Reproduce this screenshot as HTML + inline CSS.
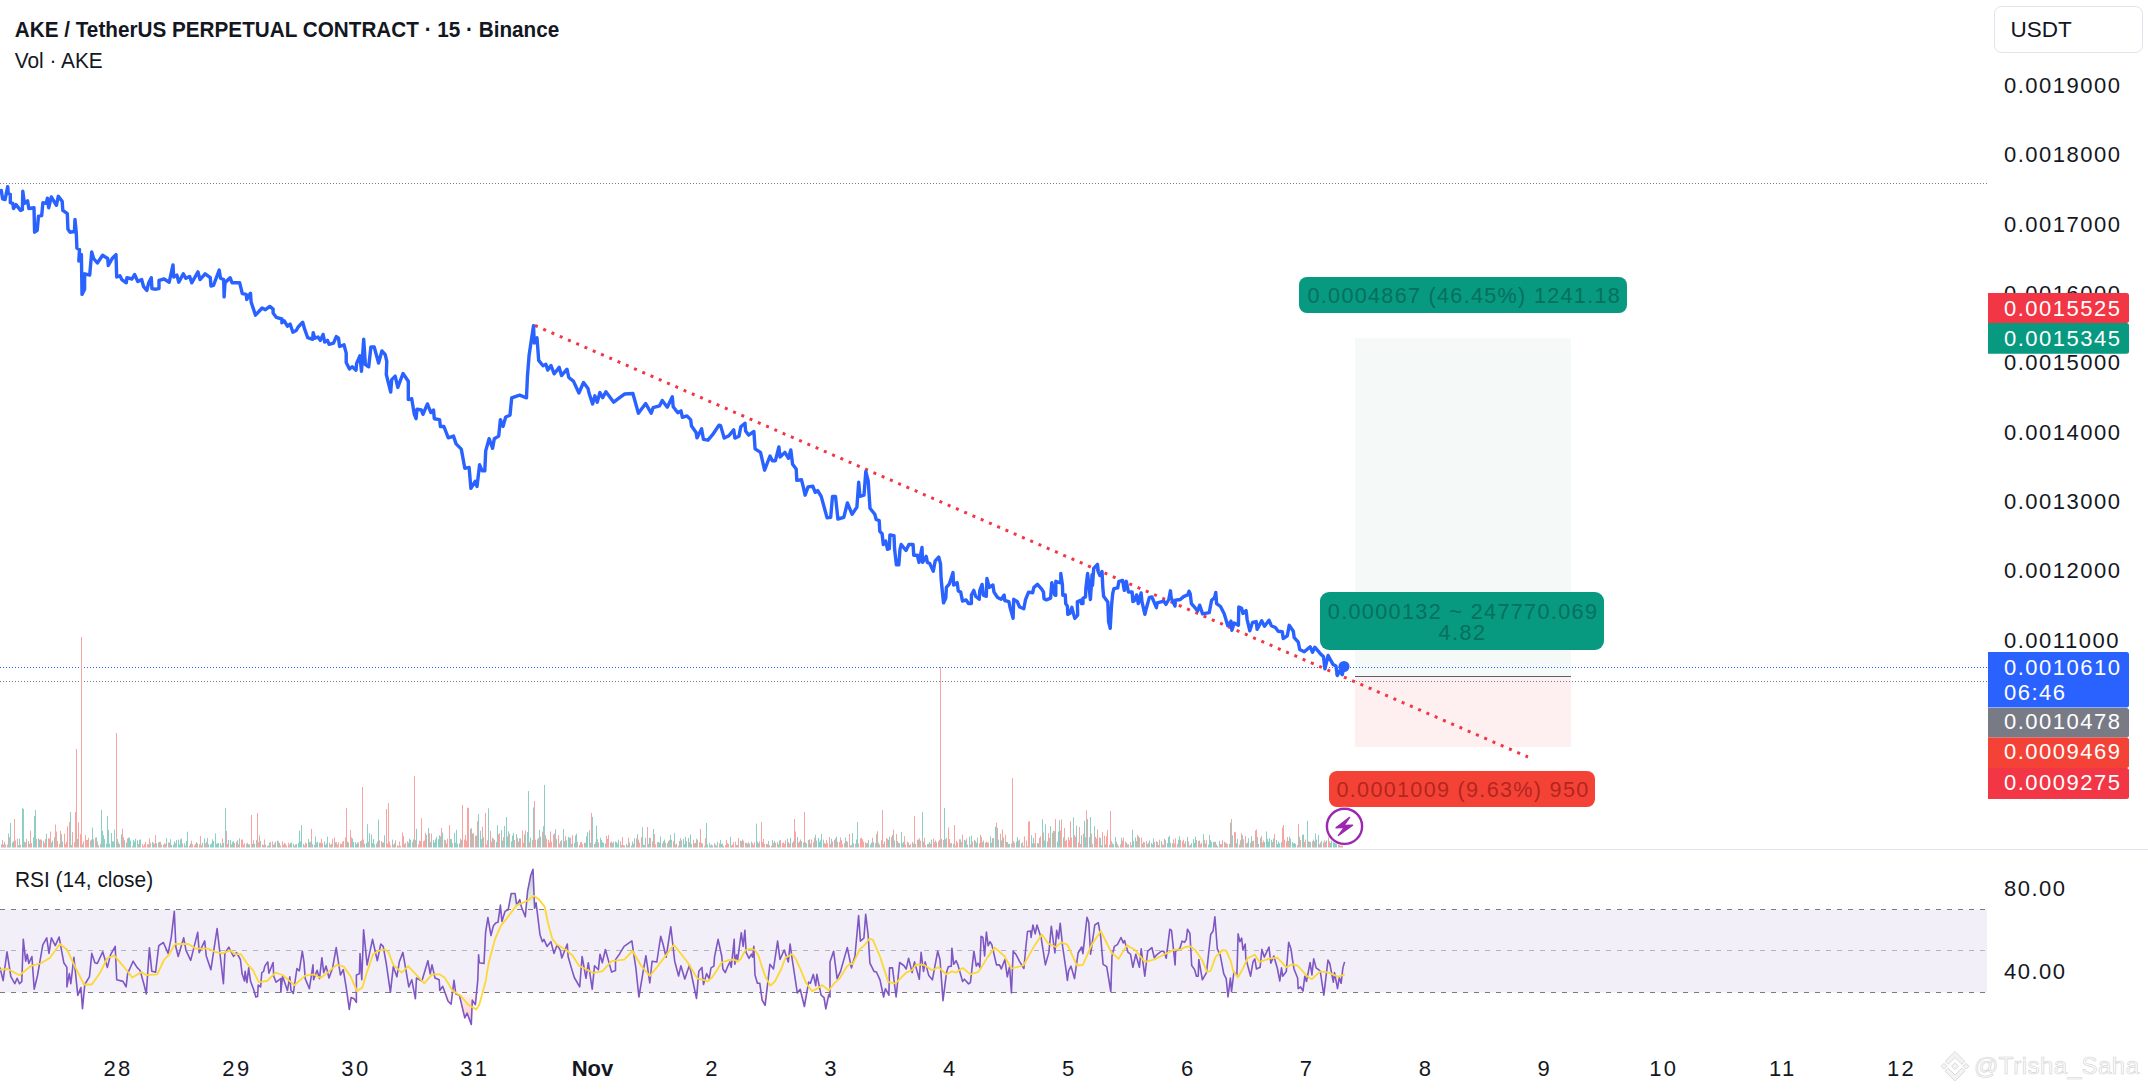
<!DOCTYPE html>
<html><head><meta charset="utf-8"><style>
html,body{margin:0;padding:0;background:#fff;}
body{width:2148px;height:1092px;overflow:hidden;position:relative;}
svg{position:absolute;left:0;top:0;font-family:'Liberation Sans',sans-serif;}
</style></head><body>
<svg width="2148" height="1092" viewBox="0 0 2148 1092">
<rect x="1355" y="338" width="216" height="338" fill="#f5f9f8"/>
<rect x="1355" y="676" width="216" height="71" fill="#fef0f0"/>
<line x1="1355" y1="676.5" x2="1571" y2="676.5" stroke="#5d606b" stroke-width="1"/>
<line x1="0" y1="183.5" x2="1987" y2="183.5" stroke="#787b86" stroke-width="1" stroke-dasharray="1 2"/>
<line x1="0" y1="667.5" x2="1987" y2="667.5" stroke="#2962ff" stroke-width="1" stroke-dasharray="1 2"/>
<line x1="0" y1="681.5" x2="1987" y2="681.5" stroke="#787b86" stroke-width="1" stroke-dasharray="1 2"/>
<rect x="0" y="849" width="2148" height="1" fill="#e0e3eb"/>
<g><rect x="1" y="844.4" width="1" height="3.1" fill="#8dcfc5"/><rect x="2" y="840.1" width="1" height="7.4" fill="#f7a5a2"/><rect x="3" y="844.6" width="1" height="2.9" fill="#f7a5a2"/><rect x="4" y="841.7" width="1" height="5.8" fill="#8dcfc5"/><rect x="5" y="844.4" width="1" height="3.1" fill="#f7a5a2"/><rect x="7" y="844.6" width="1" height="2.9" fill="#f7a5a2"/><rect x="8" y="833.6" width="1" height="13.9" fill="#8dcfc5"/><rect x="9" y="837.2" width="1" height="10.3" fill="#f7a5a2"/><rect x="10" y="822.8" width="1" height="24.7" fill="#8dcfc5"/><rect x="12" y="842.4" width="1" height="5.1" fill="#8dcfc5"/><rect x="13" y="841.2" width="1" height="6.3" fill="#8dcfc5"/><rect x="14" y="819.0" width="1" height="28.5" fill="#f7a5a2"/><rect x="15" y="840.5" width="1" height="7.0" fill="#f7a5a2"/><rect x="17" y="838.7" width="1" height="8.8" fill="#f7a5a2"/><rect x="18" y="845.3" width="1" height="2.2" fill="#8dcfc5"/><rect x="19" y="838.7" width="1" height="8.8" fill="#8dcfc5"/><rect x="20" y="844.8" width="1" height="2.7" fill="#f7a5a2"/><rect x="22" y="808.0" width="1" height="39.5" fill="#8dcfc5"/><rect x="23" y="809.0" width="1" height="38.5" fill="#8dcfc5"/><rect x="24" y="841.7" width="1" height="5.8" fill="#8dcfc5"/><rect x="25" y="842.4" width="1" height="5.1" fill="#f7a5a2"/><rect x="26" y="838.9" width="1" height="8.6" fill="#f7a5a2"/><rect x="28" y="841.1" width="1" height="6.4" fill="#8dcfc5"/><rect x="29" y="844.0" width="1" height="3.5" fill="#f7a5a2"/><rect x="30" y="830.7" width="1" height="16.8" fill="#f7a5a2"/><rect x="31" y="843.0" width="1" height="4.5" fill="#f7a5a2"/><rect x="33" y="837.4" width="1" height="10.1" fill="#8dcfc5"/><rect x="34" y="816.0" width="1" height="31.5" fill="#8dcfc5"/><rect x="35" y="810.0" width="1" height="37.5" fill="#8dcfc5"/><rect x="36" y="839.0" width="1" height="8.5" fill="#f7a5a2"/><rect x="38" y="838.3" width="1" height="9.2" fill="#8dcfc5"/><rect x="39" y="839.7" width="1" height="7.8" fill="#8dcfc5"/><rect x="40" y="839.4" width="1" height="8.1" fill="#f7a5a2"/><rect x="41" y="839.6" width="1" height="7.9" fill="#f7a5a2"/><rect x="43" y="840.9" width="1" height="6.6" fill="#8dcfc5"/><rect x="44" y="843.2" width="1" height="4.3" fill="#f7a5a2"/><rect x="45" y="839.2" width="1" height="8.3" fill="#f7a5a2"/><rect x="46" y="833.7" width="1" height="13.8" fill="#8dcfc5"/><rect x="48" y="838.3" width="1" height="9.2" fill="#f7a5a2"/><rect x="49" y="838.7" width="1" height="8.8" fill="#f7a5a2"/><rect x="50" y="831.6" width="1" height="15.9" fill="#f7a5a2"/><rect x="51" y="842.5" width="1" height="5.0" fill="#8dcfc5"/><rect x="52" y="840.6" width="1" height="6.9" fill="#8dcfc5"/><rect x="54" y="837.3" width="1" height="10.2" fill="#8dcfc5"/><rect x="55" y="824.6" width="1" height="22.9" fill="#f7a5a2"/><rect x="56" y="831.6" width="1" height="15.9" fill="#f7a5a2"/><rect x="57" y="841.1" width="1" height="6.4" fill="#f7a5a2"/><rect x="59" y="843.8" width="1" height="3.7" fill="#f7a5a2"/><rect x="60" y="830.9" width="1" height="16.6" fill="#f7a5a2"/><rect x="61" y="834.2" width="1" height="13.3" fill="#8dcfc5"/><rect x="62" y="841.6" width="1" height="5.9" fill="#8dcfc5"/><rect x="64" y="833.6" width="1" height="13.9" fill="#f7a5a2"/><rect x="65" y="844.1" width="1" height="3.4" fill="#f7a5a2"/><rect x="66" y="842.0" width="1" height="5.5" fill="#f7a5a2"/><rect x="67" y="826.4" width="1" height="21.1" fill="#f7a5a2"/><rect x="69" y="822.0" width="1" height="25.5" fill="#f7a5a2"/><rect x="70" y="812.0" width="1" height="35.5" fill="#8dcfc5"/><rect x="71" y="845.1" width="1" height="2.4" fill="#8dcfc5"/><rect x="72" y="831.9" width="1" height="15.6" fill="#f7a5a2"/><rect x="74" y="842.1" width="1" height="5.4" fill="#f7a5a2"/><rect x="75" y="812.1" width="1" height="35.4" fill="#f7a5a2"/><rect x="76" y="749.0" width="1" height="98.5" fill="#f7a5a2"/><rect x="77" y="838.9" width="1" height="8.6" fill="#8dcfc5"/><rect x="78" y="822.4" width="1" height="25.1" fill="#f7a5a2"/><rect x="80" y="834.1" width="1" height="13.4" fill="#f7a5a2"/><rect x="81" y="637.0" width="1" height="210.5" fill="#f7a5a2"/><rect x="82" y="844.2" width="1" height="3.3" fill="#8dcfc5"/><rect x="83" y="841.4" width="1" height="6.1" fill="#f7a5a2"/><rect x="85" y="835.1" width="1" height="12.4" fill="#f7a5a2"/><rect x="86" y="840.0" width="1" height="7.5" fill="#f7a5a2"/><rect x="87" y="840.0" width="1" height="7.5" fill="#f7a5a2"/><rect x="88" y="837.9" width="1" height="9.6" fill="#f7a5a2"/><rect x="90" y="840.6" width="1" height="6.9" fill="#f7a5a2"/><rect x="91" y="839.6" width="1" height="7.9" fill="#8dcfc5"/><rect x="92" y="827.5" width="1" height="20.0" fill="#8dcfc5"/><rect x="93" y="839.3" width="1" height="8.2" fill="#8dcfc5"/><rect x="95" y="837.6" width="1" height="9.9" fill="#f7a5a2"/><rect x="96" y="837.4" width="1" height="10.1" fill="#8dcfc5"/><rect x="97" y="841.6" width="1" height="5.9" fill="#f7a5a2"/><rect x="98" y="845.2" width="1" height="2.3" fill="#8dcfc5"/><rect x="100" y="843.8" width="1" height="3.7" fill="#f7a5a2"/><rect x="101" y="810.0" width="1" height="37.5" fill="#8dcfc5"/><rect x="102" y="830.8" width="1" height="16.7" fill="#8dcfc5"/><rect x="103" y="835.2" width="1" height="12.3" fill="#8dcfc5"/><rect x="104" y="839.1" width="1" height="8.4" fill="#8dcfc5"/><rect x="106" y="843.7" width="1" height="3.8" fill="#8dcfc5"/><rect x="107" y="816.0" width="1" height="31.5" fill="#8dcfc5"/><rect x="108" y="829.9" width="1" height="17.6" fill="#8dcfc5"/><rect x="109" y="843.6" width="1" height="3.9" fill="#8dcfc5"/><rect x="111" y="832.9" width="1" height="14.6" fill="#8dcfc5"/><rect x="112" y="841.4" width="1" height="6.1" fill="#8dcfc5"/><rect x="113" y="841.4" width="1" height="6.1" fill="#8dcfc5"/><rect x="114" y="829.6" width="1" height="17.9" fill="#8dcfc5"/><rect x="116" y="733.0" width="1" height="114.5" fill="#f7a5a2"/><rect x="117" y="839.1" width="1" height="8.4" fill="#8dcfc5"/><rect x="118" y="842.3" width="1" height="5.2" fill="#8dcfc5"/><rect x="119" y="844.1" width="1" height="3.4" fill="#f7a5a2"/><rect x="121" y="834.3" width="1" height="13.2" fill="#8dcfc5"/><rect x="122" y="828.8" width="1" height="18.7" fill="#f7a5a2"/><rect x="123" y="837.2" width="1" height="10.3" fill="#f7a5a2"/><rect x="124" y="840.2" width="1" height="7.3" fill="#8dcfc5"/><rect x="126" y="842.6" width="1" height="4.9" fill="#8dcfc5"/><rect x="127" y="838.5" width="1" height="9.0" fill="#f7a5a2"/><rect x="128" y="837.7" width="1" height="9.8" fill="#8dcfc5"/><rect x="129" y="837.6" width="1" height="9.9" fill="#8dcfc5"/><rect x="130" y="840.6" width="1" height="6.9" fill="#8dcfc5"/><rect x="132" y="845.8" width="1" height="1.7" fill="#f7a5a2"/><rect x="133" y="839.9" width="1" height="7.6" fill="#8dcfc5"/><rect x="134" y="841.5" width="1" height="6.0" fill="#8dcfc5"/><rect x="135" y="838.8" width="1" height="8.7" fill="#8dcfc5"/><rect x="137" y="840.1" width="1" height="7.4" fill="#8dcfc5"/><rect x="138" y="844.0" width="1" height="3.5" fill="#f7a5a2"/><rect x="139" y="839.9" width="1" height="7.6" fill="#8dcfc5"/><rect x="140" y="839.4" width="1" height="8.1" fill="#8dcfc5"/><rect x="142" y="843.9" width="1" height="3.6" fill="#f7a5a2"/><rect x="143" y="846.0" width="1" height="1.5" fill="#f7a5a2"/><rect x="144" y="844.2" width="1" height="3.3" fill="#f7a5a2"/><rect x="145" y="841.8" width="1" height="5.7" fill="#f7a5a2"/><rect x="147" y="844.3" width="1" height="3.2" fill="#f7a5a2"/><rect x="148" y="844.3" width="1" height="3.2" fill="#8dcfc5"/><rect x="149" y="838.4" width="1" height="9.1" fill="#f7a5a2"/><rect x="150" y="842.8" width="1" height="4.7" fill="#f7a5a2"/><rect x="152" y="841.9" width="1" height="5.6" fill="#8dcfc5"/><rect x="153" y="843.0" width="1" height="4.5" fill="#8dcfc5"/><rect x="154" y="844.0" width="1" height="3.5" fill="#f7a5a2"/><rect x="155" y="835.1" width="1" height="12.4" fill="#f7a5a2"/><rect x="156" y="843.1" width="1" height="4.4" fill="#8dcfc5"/><rect x="158" y="842.3" width="1" height="5.2" fill="#f7a5a2"/><rect x="159" y="841.9" width="1" height="5.6" fill="#8dcfc5"/><rect x="160" y="841.8" width="1" height="5.7" fill="#f7a5a2"/><rect x="161" y="844.6" width="1" height="2.9" fill="#8dcfc5"/><rect x="163" y="844.7" width="1" height="2.8" fill="#8dcfc5"/><rect x="164" y="843.2" width="1" height="4.3" fill="#f7a5a2"/><rect x="165" y="843.9" width="1" height="3.6" fill="#f7a5a2"/><rect x="166" y="838.2" width="1" height="9.3" fill="#8dcfc5"/><rect x="168" y="842.3" width="1" height="5.2" fill="#f7a5a2"/><rect x="169" y="842.8" width="1" height="4.7" fill="#8dcfc5"/><rect x="170" y="839.2" width="1" height="8.3" fill="#8dcfc5"/><rect x="171" y="845.0" width="1" height="2.5" fill="#f7a5a2"/><rect x="173" y="844.8" width="1" height="2.7" fill="#8dcfc5"/><rect x="174" y="841.4" width="1" height="6.1" fill="#8dcfc5"/><rect x="175" y="843.1" width="1" height="4.4" fill="#8dcfc5"/><rect x="176" y="839.9" width="1" height="7.6" fill="#8dcfc5"/><rect x="178" y="839.7" width="1" height="7.8" fill="#8dcfc5"/><rect x="179" y="844.5" width="1" height="3.0" fill="#8dcfc5"/><rect x="180" y="839.3" width="1" height="8.2" fill="#8dcfc5"/><rect x="181" y="838.6" width="1" height="8.9" fill="#8dcfc5"/><rect x="182" y="843.4" width="1" height="4.1" fill="#f7a5a2"/><rect x="184" y="843.3" width="1" height="4.2" fill="#8dcfc5"/><rect x="185" y="845.7" width="1" height="1.8" fill="#8dcfc5"/><rect x="186" y="841.0" width="1" height="6.5" fill="#8dcfc5"/><rect x="187" y="831.7" width="1" height="15.8" fill="#8dcfc5"/><rect x="189" y="845.6" width="1" height="1.9" fill="#f7a5a2"/><rect x="190" y="843.5" width="1" height="4.0" fill="#8dcfc5"/><rect x="191" y="840.7" width="1" height="6.8" fill="#f7a5a2"/><rect x="192" y="844.2" width="1" height="3.3" fill="#f7a5a2"/><rect x="194" y="845.5" width="1" height="2.0" fill="#f7a5a2"/><rect x="195" y="843.8" width="1" height="3.7" fill="#f7a5a2"/><rect x="196" y="842.1" width="1" height="5.4" fill="#8dcfc5"/><rect x="197" y="843.4" width="1" height="4.1" fill="#f7a5a2"/><rect x="199" y="844.4" width="1" height="3.1" fill="#f7a5a2"/><rect x="200" y="836.0" width="1" height="11.5" fill="#f7a5a2"/><rect x="201" y="845.4" width="1" height="2.1" fill="#8dcfc5"/><rect x="202" y="842.9" width="1" height="4.6" fill="#8dcfc5"/><rect x="204" y="838.4" width="1" height="9.1" fill="#8dcfc5"/><rect x="205" y="843.5" width="1" height="4.0" fill="#f7a5a2"/><rect x="206" y="841.9" width="1" height="5.6" fill="#f7a5a2"/><rect x="207" y="837.8" width="1" height="9.7" fill="#8dcfc5"/><rect x="208" y="844.2" width="1" height="3.3" fill="#8dcfc5"/><rect x="210" y="844.5" width="1" height="3.0" fill="#8dcfc5"/><rect x="211" y="843.4" width="1" height="4.1" fill="#8dcfc5"/><rect x="212" y="839.3" width="1" height="8.2" fill="#8dcfc5"/><rect x="213" y="840.9" width="1" height="6.6" fill="#8dcfc5"/><rect x="215" y="833.4" width="1" height="14.1" fill="#8dcfc5"/><rect x="216" y="843.9" width="1" height="3.6" fill="#8dcfc5"/><rect x="217" y="843.3" width="1" height="4.2" fill="#8dcfc5"/><rect x="218" y="843.0" width="1" height="4.5" fill="#8dcfc5"/><rect x="220" y="842.9" width="1" height="4.6" fill="#8dcfc5"/><rect x="221" y="845.3" width="1" height="2.2" fill="#8dcfc5"/><rect x="222" y="838.6" width="1" height="8.9" fill="#f7a5a2"/><rect x="223" y="842.9" width="1" height="4.6" fill="#8dcfc5"/><rect x="225" y="808.0" width="1" height="39.5" fill="#8dcfc5"/><rect x="226" y="830.9" width="1" height="16.6" fill="#f7a5a2"/><rect x="227" y="843.9" width="1" height="3.6" fill="#f7a5a2"/><rect x="228" y="840.0" width="1" height="7.5" fill="#8dcfc5"/><rect x="230" y="839.9" width="1" height="7.6" fill="#8dcfc5"/><rect x="231" y="844.4" width="1" height="3.1" fill="#f7a5a2"/><rect x="232" y="842.1" width="1" height="5.4" fill="#8dcfc5"/><rect x="233" y="841.0" width="1" height="6.5" fill="#8dcfc5"/><rect x="234" y="843.1" width="1" height="4.4" fill="#f7a5a2"/><rect x="236" y="841.8" width="1" height="5.7" fill="#8dcfc5"/><rect x="237" y="840.3" width="1" height="7.2" fill="#f7a5a2"/><rect x="238" y="844.4" width="1" height="3.1" fill="#f7a5a2"/><rect x="239" y="838.4" width="1" height="9.1" fill="#8dcfc5"/><rect x="241" y="839.5" width="1" height="8.0" fill="#f7a5a2"/><rect x="242" y="839.6" width="1" height="7.9" fill="#f7a5a2"/><rect x="243" y="844.7" width="1" height="2.8" fill="#f7a5a2"/><rect x="244" y="843.0" width="1" height="4.5" fill="#f7a5a2"/><rect x="246" y="843.9" width="1" height="3.6" fill="#f7a5a2"/><rect x="247" y="842.8" width="1" height="4.7" fill="#8dcfc5"/><rect x="248" y="844.3" width="1" height="3.2" fill="#8dcfc5"/><rect x="249" y="844.5" width="1" height="3.0" fill="#8dcfc5"/><rect x="251" y="815.0" width="1" height="32.5" fill="#f7a5a2"/><rect x="252" y="843.8" width="1" height="3.7" fill="#8dcfc5"/><rect x="253" y="840.1" width="1" height="7.4" fill="#f7a5a2"/><rect x="254" y="843.7" width="1" height="3.8" fill="#8dcfc5"/><rect x="256" y="840.1" width="1" height="7.4" fill="#8dcfc5"/><rect x="257" y="813.1" width="1" height="34.4" fill="#f7a5a2"/><rect x="258" y="842.2" width="1" height="5.3" fill="#f7a5a2"/><rect x="259" y="835.4" width="1" height="12.1" fill="#f7a5a2"/><rect x="260" y="840.9" width="1" height="6.6" fill="#8dcfc5"/><rect x="262" y="844.5" width="1" height="3.0" fill="#f7a5a2"/><rect x="263" y="845.0" width="1" height="2.5" fill="#f7a5a2"/><rect x="264" y="839.4" width="1" height="8.1" fill="#f7a5a2"/><rect x="265" y="844.5" width="1" height="3.0" fill="#8dcfc5"/><rect x="267" y="845.8" width="1" height="1.7" fill="#f7a5a2"/><rect x="268" y="845.5" width="1" height="2.0" fill="#8dcfc5"/><rect x="269" y="842.7" width="1" height="4.8" fill="#8dcfc5"/><rect x="270" y="842.1" width="1" height="5.4" fill="#f7a5a2"/><rect x="272" y="841.4" width="1" height="6.1" fill="#f7a5a2"/><rect x="273" y="844.8" width="1" height="2.7" fill="#8dcfc5"/><rect x="274" y="843.5" width="1" height="4.0" fill="#f7a5a2"/><rect x="275" y="841.7" width="1" height="5.8" fill="#8dcfc5"/><rect x="277" y="840.5" width="1" height="7.0" fill="#8dcfc5"/><rect x="278" y="841.3" width="1" height="6.2" fill="#f7a5a2"/><rect x="279" y="843.0" width="1" height="4.5" fill="#8dcfc5"/><rect x="280" y="845.5" width="1" height="2.0" fill="#f7a5a2"/><rect x="282" y="841.3" width="1" height="6.2" fill="#f7a5a2"/><rect x="283" y="844.7" width="1" height="2.8" fill="#8dcfc5"/><rect x="284" y="842.8" width="1" height="4.7" fill="#f7a5a2"/><rect x="285" y="843.9" width="1" height="3.6" fill="#f7a5a2"/><rect x="286" y="845.7" width="1" height="1.8" fill="#f7a5a2"/><rect x="288" y="842.7" width="1" height="4.8" fill="#f7a5a2"/><rect x="289" y="844.6" width="1" height="2.9" fill="#f7a5a2"/><rect x="290" y="843.0" width="1" height="4.5" fill="#8dcfc5"/><rect x="291" y="842.5" width="1" height="5.0" fill="#8dcfc5"/><rect x="293" y="843.8" width="1" height="3.7" fill="#8dcfc5"/><rect x="294" y="845.7" width="1" height="1.8" fill="#f7a5a2"/><rect x="295" y="844.6" width="1" height="2.9" fill="#8dcfc5"/><rect x="296" y="844.1" width="1" height="3.4" fill="#8dcfc5"/><rect x="298" y="842.8" width="1" height="4.7" fill="#8dcfc5"/><rect x="299" y="830.7" width="1" height="16.8" fill="#8dcfc5"/><rect x="300" y="841.3" width="1" height="6.2" fill="#8dcfc5"/><rect x="301" y="825.0" width="1" height="22.5" fill="#8dcfc5"/><rect x="303" y="843.9" width="1" height="3.6" fill="#8dcfc5"/><rect x="304" y="845.4" width="1" height="2.1" fill="#f7a5a2"/><rect x="305" y="842.7" width="1" height="4.8" fill="#f7a5a2"/><rect x="306" y="843.4" width="1" height="4.1" fill="#f7a5a2"/><rect x="308" y="839.1" width="1" height="8.4" fill="#8dcfc5"/><rect x="309" y="842.3" width="1" height="5.2" fill="#8dcfc5"/><rect x="310" y="841.7" width="1" height="5.8" fill="#8dcfc5"/><rect x="311" y="828.9" width="1" height="18.6" fill="#f7a5a2"/><rect x="312" y="844.1" width="1" height="3.4" fill="#8dcfc5"/><rect x="314" y="844.8" width="1" height="2.7" fill="#f7a5a2"/><rect x="315" y="836.5" width="1" height="11.0" fill="#8dcfc5"/><rect x="316" y="842.5" width="1" height="5.0" fill="#8dcfc5"/><rect x="317" y="841.9" width="1" height="5.6" fill="#8dcfc5"/><rect x="319" y="842.6" width="1" height="4.9" fill="#8dcfc5"/><rect x="320" y="842.6" width="1" height="4.9" fill="#f7a5a2"/><rect x="321" y="838.8" width="1" height="8.7" fill="#f7a5a2"/><rect x="322" y="843.3" width="1" height="4.2" fill="#f7a5a2"/><rect x="324" y="841.5" width="1" height="6.0" fill="#8dcfc5"/><rect x="325" y="844.8" width="1" height="2.7" fill="#8dcfc5"/><rect x="326" y="843.4" width="1" height="4.1" fill="#8dcfc5"/><rect x="327" y="836.6" width="1" height="10.9" fill="#8dcfc5"/><rect x="329" y="842.6" width="1" height="4.9" fill="#f7a5a2"/><rect x="330" y="844.7" width="1" height="2.8" fill="#f7a5a2"/><rect x="331" y="844.0" width="1" height="3.5" fill="#8dcfc5"/><rect x="332" y="839.1" width="1" height="8.4" fill="#f7a5a2"/><rect x="334" y="837.4" width="1" height="10.1" fill="#f7a5a2"/><rect x="335" y="842.3" width="1" height="5.2" fill="#8dcfc5"/><rect x="336" y="842.2" width="1" height="5.3" fill="#f7a5a2"/><rect x="337" y="844.6" width="1" height="2.9" fill="#f7a5a2"/><rect x="338" y="842.2" width="1" height="5.3" fill="#f7a5a2"/><rect x="340" y="843.5" width="1" height="4.0" fill="#f7a5a2"/><rect x="341" y="844.2" width="1" height="3.3" fill="#8dcfc5"/><rect x="342" y="841.7" width="1" height="5.8" fill="#f7a5a2"/><rect x="343" y="840.9" width="1" height="6.6" fill="#f7a5a2"/><rect x="345" y="837.5" width="1" height="10.0" fill="#f7a5a2"/><rect x="346" y="808.0" width="1" height="39.5" fill="#f7a5a2"/><rect x="347" y="841.5" width="1" height="6.0" fill="#8dcfc5"/><rect x="348" y="842.5" width="1" height="5.0" fill="#8dcfc5"/><rect x="350" y="830.0" width="1" height="17.5" fill="#f7a5a2"/><rect x="351" y="837.3" width="1" height="10.2" fill="#f7a5a2"/><rect x="352" y="838.5" width="1" height="9.0" fill="#8dcfc5"/><rect x="353" y="841.9" width="1" height="5.6" fill="#8dcfc5"/><rect x="355" y="842.1" width="1" height="5.4" fill="#8dcfc5"/><rect x="356" y="844.2" width="1" height="3.3" fill="#8dcfc5"/><rect x="357" y="842.7" width="1" height="4.8" fill="#8dcfc5"/><rect x="358" y="842.4" width="1" height="5.1" fill="#f7a5a2"/><rect x="360" y="841.2" width="1" height="6.3" fill="#8dcfc5"/><rect x="361" y="840.4" width="1" height="7.1" fill="#f7a5a2"/><rect x="362" y="787.0" width="1" height="60.5" fill="#f7a5a2"/><rect x="363" y="839.5" width="1" height="8.0" fill="#f7a5a2"/><rect x="364" y="843.9" width="1" height="3.6" fill="#8dcfc5"/><rect x="366" y="843.0" width="1" height="4.5" fill="#8dcfc5"/><rect x="367" y="824.2" width="1" height="23.3" fill="#8dcfc5"/><rect x="368" y="841.6" width="1" height="5.9" fill="#f7a5a2"/><rect x="369" y="833.1" width="1" height="14.4" fill="#8dcfc5"/><rect x="371" y="834.6" width="1" height="12.9" fill="#8dcfc5"/><rect x="372" y="843.0" width="1" height="4.5" fill="#8dcfc5"/><rect x="373" y="839.1" width="1" height="8.4" fill="#8dcfc5"/><rect x="374" y="844.4" width="1" height="3.1" fill="#8dcfc5"/><rect x="376" y="843.6" width="1" height="3.9" fill="#f7a5a2"/><rect x="377" y="841.4" width="1" height="6.1" fill="#8dcfc5"/><rect x="378" y="819.6" width="1" height="27.9" fill="#8dcfc5"/><rect x="379" y="840.3" width="1" height="7.2" fill="#f7a5a2"/><rect x="381" y="841.2" width="1" height="6.3" fill="#f7a5a2"/><rect x="382" y="842.5" width="1" height="5.0" fill="#8dcfc5"/><rect x="383" y="842.5" width="1" height="5.0" fill="#f7a5a2"/><rect x="384" y="835.3" width="1" height="12.2" fill="#8dcfc5"/><rect x="386" y="809.0" width="1" height="38.5" fill="#f7a5a2"/><rect x="387" y="843.6" width="1" height="3.9" fill="#f7a5a2"/><rect x="388" y="803.0" width="1" height="44.5" fill="#f7a5a2"/><rect x="389" y="841.7" width="1" height="5.8" fill="#f7a5a2"/><rect x="390" y="845.4" width="1" height="2.1" fill="#f7a5a2"/><rect x="392" y="839.6" width="1" height="7.9" fill="#8dcfc5"/><rect x="393" y="844.6" width="1" height="2.9" fill="#f7a5a2"/><rect x="394" y="843.4" width="1" height="4.1" fill="#8dcfc5"/><rect x="395" y="840.2" width="1" height="7.3" fill="#f7a5a2"/><rect x="397" y="845.2" width="1" height="2.3" fill="#f7a5a2"/><rect x="398" y="846.0" width="1" height="1.5" fill="#8dcfc5"/><rect x="399" y="841.7" width="1" height="5.8" fill="#f7a5a2"/><rect x="400" y="845.8" width="1" height="1.7" fill="#f7a5a2"/><rect x="402" y="832.4" width="1" height="15.1" fill="#f7a5a2"/><rect x="403" y="836.1" width="1" height="11.4" fill="#f7a5a2"/><rect x="404" y="844.1" width="1" height="3.4" fill="#8dcfc5"/><rect x="405" y="842.8" width="1" height="4.7" fill="#f7a5a2"/><rect x="407" y="841.3" width="1" height="6.2" fill="#f7a5a2"/><rect x="408" y="842.7" width="1" height="4.8" fill="#8dcfc5"/><rect x="409" y="838.5" width="1" height="9.0" fill="#8dcfc5"/><rect x="410" y="839.9" width="1" height="7.6" fill="#8dcfc5"/><rect x="412" y="841.9" width="1" height="5.6" fill="#f7a5a2"/><rect x="413" y="839.4" width="1" height="8.1" fill="#8dcfc5"/><rect x="414" y="776.0" width="1" height="71.5" fill="#f7a5a2"/><rect x="415" y="840.1" width="1" height="7.4" fill="#8dcfc5"/><rect x="416" y="828.8" width="1" height="18.7" fill="#8dcfc5"/><rect x="418" y="844.3" width="1" height="3.2" fill="#f7a5a2"/><rect x="419" y="840.5" width="1" height="7.0" fill="#f7a5a2"/><rect x="420" y="841.1" width="1" height="6.4" fill="#f7a5a2"/><rect x="421" y="818.3" width="1" height="29.2" fill="#f7a5a2"/><rect x="423" y="841.2" width="1" height="6.3" fill="#f7a5a2"/><rect x="424" y="840.4" width="1" height="7.1" fill="#f7a5a2"/><rect x="425" y="832.7" width="1" height="14.8" fill="#f7a5a2"/><rect x="426" y="834.8" width="1" height="12.7" fill="#8dcfc5"/><rect x="428" y="828.0" width="1" height="19.5" fill="#8dcfc5"/><rect x="429" y="833.1" width="1" height="14.4" fill="#f7a5a2"/><rect x="430" y="842.0" width="1" height="5.5" fill="#8dcfc5"/><rect x="431" y="833.6" width="1" height="13.9" fill="#f7a5a2"/><rect x="433" y="840.1" width="1" height="7.4" fill="#8dcfc5"/><rect x="434" y="842.5" width="1" height="5.0" fill="#8dcfc5"/><rect x="435" y="839.3" width="1" height="8.2" fill="#8dcfc5"/><rect x="436" y="836.8" width="1" height="10.7" fill="#8dcfc5"/><rect x="438" y="839.2" width="1" height="8.3" fill="#8dcfc5"/><rect x="439" y="835.3" width="1" height="12.2" fill="#8dcfc5"/><rect x="440" y="836.3" width="1" height="11.2" fill="#8dcfc5"/><rect x="441" y="827.9" width="1" height="19.6" fill="#f7a5a2"/><rect x="442" y="832.6" width="1" height="14.9" fill="#8dcfc5"/><rect x="444" y="839.7" width="1" height="7.8" fill="#f7a5a2"/><rect x="445" y="840.3" width="1" height="7.2" fill="#8dcfc5"/><rect x="446" y="843.5" width="1" height="4.0" fill="#f7a5a2"/><rect x="447" y="838.7" width="1" height="8.8" fill="#f7a5a2"/><rect x="449" y="825.1" width="1" height="22.4" fill="#f7a5a2"/><rect x="450" y="839.0" width="1" height="8.5" fill="#8dcfc5"/><rect x="451" y="839.0" width="1" height="8.5" fill="#8dcfc5"/><rect x="452" y="843.2" width="1" height="4.3" fill="#f7a5a2"/><rect x="454" y="832.9" width="1" height="14.6" fill="#8dcfc5"/><rect x="455" y="842.6" width="1" height="4.9" fill="#8dcfc5"/><rect x="456" y="829.7" width="1" height="17.8" fill="#8dcfc5"/><rect x="457" y="843.8" width="1" height="3.7" fill="#8dcfc5"/><rect x="459" y="843.3" width="1" height="4.2" fill="#8dcfc5"/><rect x="460" y="838.7" width="1" height="8.8" fill="#f7a5a2"/><rect x="461" y="839.9" width="1" height="7.6" fill="#8dcfc5"/><rect x="462" y="805.0" width="1" height="42.5" fill="#f7a5a2"/><rect x="464" y="839.6" width="1" height="7.9" fill="#f7a5a2"/><rect x="465" y="834.9" width="1" height="12.6" fill="#f7a5a2"/><rect x="466" y="840.7" width="1" height="6.8" fill="#f7a5a2"/><rect x="467" y="807.5" width="1" height="40.0" fill="#f7a5a2"/><rect x="468" y="808.0" width="1" height="39.5" fill="#f7a5a2"/><rect x="470" y="828.9" width="1" height="18.6" fill="#f7a5a2"/><rect x="471" y="828.2" width="1" height="19.3" fill="#8dcfc5"/><rect x="472" y="833.6" width="1" height="13.9" fill="#8dcfc5"/><rect x="473" y="833.3" width="1" height="14.2" fill="#f7a5a2"/><rect x="475" y="835.8" width="1" height="11.7" fill="#f7a5a2"/><rect x="476" y="835.6" width="1" height="11.9" fill="#8dcfc5"/><rect x="477" y="821.2" width="1" height="26.3" fill="#f7a5a2"/><rect x="478" y="814.0" width="1" height="33.5" fill="#8dcfc5"/><rect x="480" y="830.9" width="1" height="16.6" fill="#8dcfc5"/><rect x="481" y="839.0" width="1" height="8.5" fill="#8dcfc5"/><rect x="482" y="826.6" width="1" height="20.9" fill="#f7a5a2"/><rect x="483" y="837.3" width="1" height="10.2" fill="#8dcfc5"/><rect x="485" y="812.9" width="1" height="34.6" fill="#f7a5a2"/><rect x="486" y="844.6" width="1" height="2.9" fill="#f7a5a2"/><rect x="487" y="840.2" width="1" height="7.3" fill="#f7a5a2"/><rect x="488" y="808.3" width="1" height="39.2" fill="#8dcfc5"/><rect x="490" y="830.9" width="1" height="16.6" fill="#f7a5a2"/><rect x="491" y="841.8" width="1" height="5.7" fill="#f7a5a2"/><rect x="492" y="837.7" width="1" height="9.8" fill="#8dcfc5"/><rect x="493" y="838.7" width="1" height="8.8" fill="#f7a5a2"/><rect x="494" y="839.7" width="1" height="7.8" fill="#f7a5a2"/><rect x="496" y="841.9" width="1" height="5.6" fill="#8dcfc5"/><rect x="497" y="825.1" width="1" height="22.4" fill="#8dcfc5"/><rect x="498" y="834.4" width="1" height="13.1" fill="#f7a5a2"/><rect x="499" y="833.1" width="1" height="14.4" fill="#f7a5a2"/><rect x="501" y="830.2" width="1" height="17.3" fill="#8dcfc5"/><rect x="502" y="840.7" width="1" height="6.8" fill="#8dcfc5"/><rect x="503" y="837.2" width="1" height="10.3" fill="#f7a5a2"/><rect x="504" y="825.9" width="1" height="21.6" fill="#8dcfc5"/><rect x="506" y="817.0" width="1" height="30.5" fill="#8dcfc5"/><rect x="507" y="836.4" width="1" height="11.1" fill="#8dcfc5"/><rect x="508" y="831.4" width="1" height="16.1" fill="#8dcfc5"/><rect x="509" y="833.8" width="1" height="13.7" fill="#f7a5a2"/><rect x="511" y="841.5" width="1" height="6.0" fill="#8dcfc5"/><rect x="512" y="835.6" width="1" height="11.9" fill="#8dcfc5"/><rect x="513" y="832.8" width="1" height="14.7" fill="#8dcfc5"/><rect x="514" y="839.9" width="1" height="7.6" fill="#f7a5a2"/><rect x="516" y="834.0" width="1" height="13.5" fill="#8dcfc5"/><rect x="517" y="837.7" width="1" height="9.8" fill="#f7a5a2"/><rect x="518" y="841.7" width="1" height="5.8" fill="#f7a5a2"/><rect x="519" y="838.3" width="1" height="9.2" fill="#8dcfc5"/><rect x="520" y="838.3" width="1" height="9.2" fill="#f7a5a2"/><rect x="522" y="830.4" width="1" height="17.1" fill="#f7a5a2"/><rect x="523" y="842.8" width="1" height="4.7" fill="#f7a5a2"/><rect x="524" y="834.4" width="1" height="13.1" fill="#8dcfc5"/><rect x="525" y="830.5" width="1" height="17.0" fill="#f7a5a2"/><rect x="527" y="832.1" width="1" height="15.4" fill="#8dcfc5"/><rect x="528" y="791.0" width="1" height="56.5" fill="#8dcfc5"/><rect x="529" y="842.1" width="1" height="5.4" fill="#f7a5a2"/><rect x="530" y="837.6" width="1" height="9.9" fill="#8dcfc5"/><rect x="532" y="840.1" width="1" height="7.4" fill="#f7a5a2"/><rect x="533" y="807.5" width="1" height="40.0" fill="#8dcfc5"/><rect x="534" y="801.0" width="1" height="46.5" fill="#f7a5a2"/><rect x="535" y="839.7" width="1" height="7.8" fill="#f7a5a2"/><rect x="537" y="839.4" width="1" height="8.1" fill="#8dcfc5"/><rect x="538" y="838.0" width="1" height="9.5" fill="#f7a5a2"/><rect x="539" y="829.8" width="1" height="17.7" fill="#8dcfc5"/><rect x="540" y="836.7" width="1" height="10.8" fill="#8dcfc5"/><rect x="542" y="831.6" width="1" height="15.9" fill="#f7a5a2"/><rect x="543" y="826.1" width="1" height="21.4" fill="#8dcfc5"/><rect x="544" y="785.0" width="1" height="62.5" fill="#8dcfc5"/><rect x="545" y="835.2" width="1" height="12.3" fill="#f7a5a2"/><rect x="546" y="838.6" width="1" height="8.9" fill="#f7a5a2"/><rect x="548" y="840.0" width="1" height="7.5" fill="#f7a5a2"/><rect x="549" y="842.4" width="1" height="5.1" fill="#f7a5a2"/><rect x="550" y="831.4" width="1" height="16.1" fill="#f7a5a2"/><rect x="551" y="841.6" width="1" height="5.9" fill="#f7a5a2"/><rect x="553" y="834.6" width="1" height="12.9" fill="#f7a5a2"/><rect x="554" y="833.6" width="1" height="13.9" fill="#f7a5a2"/><rect x="555" y="829.2" width="1" height="18.3" fill="#8dcfc5"/><rect x="556" y="839.2" width="1" height="8.3" fill="#8dcfc5"/><rect x="558" y="835.2" width="1" height="12.3" fill="#f7a5a2"/><rect x="559" y="843.5" width="1" height="4.0" fill="#f7a5a2"/><rect x="560" y="841.1" width="1" height="6.4" fill="#f7a5a2"/><rect x="561" y="840.1" width="1" height="7.4" fill="#8dcfc5"/><rect x="563" y="829.1" width="1" height="18.4" fill="#8dcfc5"/><rect x="564" y="841.2" width="1" height="6.3" fill="#8dcfc5"/><rect x="565" y="836.1" width="1" height="11.4" fill="#f7a5a2"/><rect x="566" y="840.1" width="1" height="7.4" fill="#8dcfc5"/><rect x="568" y="836.8" width="1" height="10.7" fill="#8dcfc5"/><rect x="569" y="837.7" width="1" height="9.8" fill="#8dcfc5"/><rect x="570" y="837.6" width="1" height="9.9" fill="#f7a5a2"/><rect x="571" y="843.9" width="1" height="3.6" fill="#8dcfc5"/><rect x="572" y="835.1" width="1" height="12.4" fill="#f7a5a2"/><rect x="574" y="842.8" width="1" height="4.7" fill="#8dcfc5"/><rect x="575" y="835.4" width="1" height="12.1" fill="#8dcfc5"/><rect x="576" y="833.7" width="1" height="13.8" fill="#8dcfc5"/><rect x="577" y="841.9" width="1" height="5.6" fill="#f7a5a2"/><rect x="579" y="845.0" width="1" height="2.5" fill="#8dcfc5"/><rect x="580" y="842.1" width="1" height="5.4" fill="#f7a5a2"/><rect x="581" y="842.1" width="1" height="5.4" fill="#f7a5a2"/><rect x="582" y="844.2" width="1" height="3.3" fill="#f7a5a2"/><rect x="584" y="842.8" width="1" height="4.7" fill="#8dcfc5"/><rect x="585" y="842.8" width="1" height="4.7" fill="#f7a5a2"/><rect x="586" y="836.3" width="1" height="11.2" fill="#8dcfc5"/><rect x="587" y="832.2" width="1" height="15.3" fill="#8dcfc5"/><rect x="589" y="830.3" width="1" height="17.2" fill="#8dcfc5"/><rect x="590" y="842.8" width="1" height="4.7" fill="#8dcfc5"/><rect x="591" y="813.0" width="1" height="34.5" fill="#f7a5a2"/><rect x="592" y="817.0" width="1" height="30.5" fill="#8dcfc5"/><rect x="594" y="844.0" width="1" height="3.5" fill="#8dcfc5"/><rect x="595" y="842.2" width="1" height="5.3" fill="#f7a5a2"/><rect x="596" y="825.6" width="1" height="21.9" fill="#8dcfc5"/><rect x="597" y="839.2" width="1" height="8.3" fill="#8dcfc5"/><rect x="598" y="842.4" width="1" height="5.1" fill="#f7a5a2"/><rect x="600" y="837.7" width="1" height="9.8" fill="#8dcfc5"/><rect x="601" y="840.0" width="1" height="7.5" fill="#8dcfc5"/><rect x="602" y="842.1" width="1" height="5.4" fill="#8dcfc5"/><rect x="603" y="842.8" width="1" height="4.7" fill="#8dcfc5"/><rect x="605" y="843.4" width="1" height="4.1" fill="#8dcfc5"/><rect x="606" y="836.0" width="1" height="11.5" fill="#f7a5a2"/><rect x="607" y="839.0" width="1" height="8.5" fill="#f7a5a2"/><rect x="608" y="834.9" width="1" height="12.6" fill="#f7a5a2"/><rect x="610" y="842.4" width="1" height="5.1" fill="#8dcfc5"/><rect x="611" y="841.4" width="1" height="6.1" fill="#f7a5a2"/><rect x="612" y="843.0" width="1" height="4.5" fill="#8dcfc5"/><rect x="613" y="841.8" width="1" height="5.7" fill="#f7a5a2"/><rect x="615" y="841.5" width="1" height="6.0" fill="#8dcfc5"/><rect x="616" y="842.2" width="1" height="5.3" fill="#8dcfc5"/><rect x="617" y="843.5" width="1" height="4.0" fill="#8dcfc5"/><rect x="618" y="839.7" width="1" height="7.8" fill="#8dcfc5"/><rect x="620" y="841.2" width="1" height="6.3" fill="#f7a5a2"/><rect x="621" y="845.1" width="1" height="2.4" fill="#8dcfc5"/><rect x="622" y="836.9" width="1" height="10.6" fill="#f7a5a2"/><rect x="623" y="845.1" width="1" height="2.4" fill="#f7a5a2"/><rect x="624" y="845.5" width="1" height="2.0" fill="#8dcfc5"/><rect x="626" y="843.8" width="1" height="3.7" fill="#8dcfc5"/><rect x="627" y="845.5" width="1" height="2.0" fill="#f7a5a2"/><rect x="628" y="837.7" width="1" height="9.8" fill="#f7a5a2"/><rect x="629" y="842.5" width="1" height="5.0" fill="#8dcfc5"/><rect x="631" y="845.6" width="1" height="1.9" fill="#8dcfc5"/><rect x="632" y="841.5" width="1" height="6.0" fill="#8dcfc5"/><rect x="633" y="843.7" width="1" height="3.8" fill="#f7a5a2"/><rect x="634" y="838.3" width="1" height="9.2" fill="#8dcfc5"/><rect x="636" y="838.4" width="1" height="9.1" fill="#f7a5a2"/><rect x="637" y="834.1" width="1" height="13.4" fill="#8dcfc5"/><rect x="638" y="839.6" width="1" height="7.9" fill="#f7a5a2"/><rect x="639" y="842.5" width="1" height="5.0" fill="#f7a5a2"/><rect x="641" y="837.4" width="1" height="10.1" fill="#f7a5a2"/><rect x="642" y="827.3" width="1" height="20.2" fill="#8dcfc5"/><rect x="643" y="844.7" width="1" height="2.8" fill="#8dcfc5"/><rect x="644" y="845.0" width="1" height="2.5" fill="#f7a5a2"/><rect x="645" y="837.9" width="1" height="9.6" fill="#8dcfc5"/><rect x="647" y="827.0" width="1" height="20.5" fill="#f7a5a2"/><rect x="648" y="843.8" width="1" height="3.7" fill="#8dcfc5"/><rect x="649" y="837.7" width="1" height="9.8" fill="#8dcfc5"/><rect x="650" y="837.8" width="1" height="9.7" fill="#f7a5a2"/><rect x="652" y="841.4" width="1" height="6.1" fill="#f7a5a2"/><rect x="653" y="829.0" width="1" height="18.5" fill="#8dcfc5"/><rect x="654" y="834.2" width="1" height="13.3" fill="#f7a5a2"/><rect x="655" y="844.3" width="1" height="3.2" fill="#f7a5a2"/><rect x="657" y="842.3" width="1" height="5.2" fill="#f7a5a2"/><rect x="658" y="842.0" width="1" height="5.5" fill="#8dcfc5"/><rect x="659" y="842.7" width="1" height="4.8" fill="#8dcfc5"/><rect x="660" y="836.5" width="1" height="11.0" fill="#8dcfc5"/><rect x="662" y="843.3" width="1" height="4.2" fill="#f7a5a2"/><rect x="663" y="841.1" width="1" height="6.4" fill="#8dcfc5"/><rect x="664" y="839.5" width="1" height="8.0" fill="#8dcfc5"/><rect x="665" y="842.7" width="1" height="4.8" fill="#f7a5a2"/><rect x="667" y="843.2" width="1" height="4.3" fill="#8dcfc5"/><rect x="668" y="841.1" width="1" height="6.4" fill="#8dcfc5"/><rect x="669" y="839.9" width="1" height="7.6" fill="#f7a5a2"/><rect x="670" y="834.9" width="1" height="12.6" fill="#8dcfc5"/><rect x="671" y="839.8" width="1" height="7.7" fill="#8dcfc5"/><rect x="673" y="841.0" width="1" height="6.5" fill="#f7a5a2"/><rect x="674" y="832.8" width="1" height="14.7" fill="#8dcfc5"/><rect x="675" y="844.4" width="1" height="3.1" fill="#f7a5a2"/><rect x="676" y="843.6" width="1" height="3.9" fill="#f7a5a2"/><rect x="678" y="845.7" width="1" height="1.8" fill="#f7a5a2"/><rect x="679" y="841.0" width="1" height="6.5" fill="#8dcfc5"/><rect x="680" y="838.0" width="1" height="9.5" fill="#f7a5a2"/><rect x="681" y="840.4" width="1" height="7.1" fill="#8dcfc5"/><rect x="683" y="838.9" width="1" height="8.6" fill="#8dcfc5"/><rect x="684" y="844.1" width="1" height="3.4" fill="#8dcfc5"/><rect x="685" y="836.8" width="1" height="10.7" fill="#8dcfc5"/><rect x="686" y="841.1" width="1" height="6.4" fill="#8dcfc5"/><rect x="688" y="838.0" width="1" height="9.5" fill="#8dcfc5"/><rect x="689" y="842.2" width="1" height="5.3" fill="#f7a5a2"/><rect x="690" y="834.5" width="1" height="13.0" fill="#8dcfc5"/><rect x="691" y="844.3" width="1" height="3.2" fill="#8dcfc5"/><rect x="693" y="839.8" width="1" height="7.7" fill="#f7a5a2"/><rect x="694" y="843.3" width="1" height="4.2" fill="#f7a5a2"/><rect x="695" y="842.9" width="1" height="4.6" fill="#8dcfc5"/><rect x="696" y="838.7" width="1" height="8.8" fill="#8dcfc5"/><rect x="697" y="839.9" width="1" height="7.6" fill="#f7a5a2"/><rect x="699" y="842.2" width="1" height="5.3" fill="#f7a5a2"/><rect x="700" y="829.0" width="1" height="18.5" fill="#f7a5a2"/><rect x="701" y="842.9" width="1" height="4.6" fill="#f7a5a2"/><rect x="702" y="843.5" width="1" height="4.0" fill="#8dcfc5"/><rect x="704" y="846.0" width="1" height="1.5" fill="#f7a5a2"/><rect x="705" y="838.2" width="1" height="9.3" fill="#f7a5a2"/><rect x="706" y="823.0" width="1" height="24.5" fill="#8dcfc5"/><rect x="707" y="844.5" width="1" height="3.0" fill="#8dcfc5"/><rect x="709" y="842.9" width="1" height="4.6" fill="#8dcfc5"/><rect x="710" y="845.4" width="1" height="2.1" fill="#8dcfc5"/><rect x="711" y="844.4" width="1" height="3.1" fill="#8dcfc5"/><rect x="712" y="845.3" width="1" height="2.2" fill="#f7a5a2"/><rect x="714" y="843.2" width="1" height="4.3" fill="#8dcfc5"/><rect x="715" y="844.6" width="1" height="2.9" fill="#f7a5a2"/><rect x="716" y="845.8" width="1" height="1.7" fill="#8dcfc5"/><rect x="717" y="841.8" width="1" height="5.7" fill="#8dcfc5"/><rect x="719" y="843.3" width="1" height="4.2" fill="#f7a5a2"/><rect x="720" y="840.0" width="1" height="7.5" fill="#8dcfc5"/><rect x="721" y="844.0" width="1" height="3.5" fill="#8dcfc5"/><rect x="722" y="843.5" width="1" height="4.0" fill="#8dcfc5"/><rect x="723" y="846.0" width="1" height="1.5" fill="#f7a5a2"/><rect x="725" y="845.1" width="1" height="2.4" fill="#f7a5a2"/><rect x="726" y="839.9" width="1" height="7.6" fill="#f7a5a2"/><rect x="727" y="843.2" width="1" height="4.3" fill="#f7a5a2"/><rect x="728" y="843.8" width="1" height="3.7" fill="#f7a5a2"/><rect x="730" y="836.8" width="1" height="10.7" fill="#8dcfc5"/><rect x="731" y="845.4" width="1" height="2.1" fill="#8dcfc5"/><rect x="732" y="844.5" width="1" height="3.0" fill="#f7a5a2"/><rect x="733" y="842.2" width="1" height="5.3" fill="#f7a5a2"/><rect x="735" y="841.7" width="1" height="5.8" fill="#f7a5a2"/><rect x="736" y="845.0" width="1" height="2.5" fill="#f7a5a2"/><rect x="737" y="845.0" width="1" height="2.5" fill="#8dcfc5"/><rect x="738" y="838.0" width="1" height="9.5" fill="#f7a5a2"/><rect x="740" y="840.6" width="1" height="6.9" fill="#f7a5a2"/><rect x="741" y="841.2" width="1" height="6.3" fill="#8dcfc5"/><rect x="742" y="839.4" width="1" height="8.1" fill="#8dcfc5"/><rect x="743" y="840.7" width="1" height="6.8" fill="#f7a5a2"/><rect x="745" y="842.6" width="1" height="4.9" fill="#f7a5a2"/><rect x="746" y="842.8" width="1" height="4.7" fill="#f7a5a2"/><rect x="747" y="843.6" width="1" height="3.9" fill="#8dcfc5"/><rect x="748" y="842.1" width="1" height="5.4" fill="#f7a5a2"/><rect x="749" y="843.6" width="1" height="3.9" fill="#8dcfc5"/><rect x="751" y="841.6" width="1" height="5.9" fill="#8dcfc5"/><rect x="752" y="843.1" width="1" height="4.4" fill="#f7a5a2"/><rect x="753" y="844.7" width="1" height="2.8" fill="#f7a5a2"/><rect x="754" y="842.2" width="1" height="5.3" fill="#f7a5a2"/><rect x="756" y="823.5" width="1" height="24.0" fill="#8dcfc5"/><rect x="757" y="841.6" width="1" height="5.9" fill="#8dcfc5"/><rect x="758" y="843.3" width="1" height="4.2" fill="#8dcfc5"/><rect x="759" y="841.4" width="1" height="6.1" fill="#f7a5a2"/><rect x="761" y="822.0" width="1" height="25.5" fill="#f7a5a2"/><rect x="762" y="842.1" width="1" height="5.4" fill="#f7a5a2"/><rect x="763" y="839.0" width="1" height="8.5" fill="#f7a5a2"/><rect x="764" y="843.8" width="1" height="3.7" fill="#f7a5a2"/><rect x="766" y="843.9" width="1" height="3.6" fill="#f7a5a2"/><rect x="767" y="844.1" width="1" height="3.4" fill="#8dcfc5"/><rect x="768" y="841.0" width="1" height="6.5" fill="#8dcfc5"/><rect x="769" y="845.2" width="1" height="2.3" fill="#f7a5a2"/><rect x="771" y="845.8" width="1" height="1.7" fill="#f7a5a2"/><rect x="772" y="839.8" width="1" height="7.7" fill="#8dcfc5"/><rect x="773" y="843.0" width="1" height="4.5" fill="#f7a5a2"/><rect x="774" y="840.9" width="1" height="6.6" fill="#8dcfc5"/><rect x="775" y="842.7" width="1" height="4.8" fill="#f7a5a2"/><rect x="777" y="842.0" width="1" height="5.5" fill="#f7a5a2"/><rect x="778" y="844.3" width="1" height="3.2" fill="#8dcfc5"/><rect x="779" y="840.5" width="1" height="7.0" fill="#8dcfc5"/><rect x="780" y="839.9" width="1" height="7.6" fill="#f7a5a2"/><rect x="782" y="843.0" width="1" height="4.5" fill="#f7a5a2"/><rect x="783" y="842.5" width="1" height="5.0" fill="#f7a5a2"/><rect x="784" y="843.8" width="1" height="3.7" fill="#f7a5a2"/><rect x="785" y="840.3" width="1" height="7.2" fill="#f7a5a2"/><rect x="787" y="838.6" width="1" height="8.9" fill="#8dcfc5"/><rect x="788" y="842.0" width="1" height="5.5" fill="#f7a5a2"/><rect x="789" y="843.6" width="1" height="3.9" fill="#f7a5a2"/><rect x="790" y="837.8" width="1" height="9.7" fill="#8dcfc5"/><rect x="792" y="842.6" width="1" height="4.9" fill="#8dcfc5"/><rect x="793" y="840.9" width="1" height="6.6" fill="#f7a5a2"/><rect x="794" y="819.0" width="1" height="28.5" fill="#f7a5a2"/><rect x="795" y="831.4" width="1" height="16.1" fill="#f7a5a2"/><rect x="797" y="836.9" width="1" height="10.6" fill="#8dcfc5"/><rect x="798" y="842.5" width="1" height="5.0" fill="#f7a5a2"/><rect x="799" y="841.6" width="1" height="5.9" fill="#f7a5a2"/><rect x="800" y="839.4" width="1" height="8.1" fill="#8dcfc5"/><rect x="801" y="841.0" width="1" height="6.5" fill="#f7a5a2"/><rect x="803" y="842.7" width="1" height="4.8" fill="#8dcfc5"/><rect x="804" y="812.0" width="1" height="35.5" fill="#f7a5a2"/><rect x="805" y="842.2" width="1" height="5.3" fill="#8dcfc5"/><rect x="806" y="843.5" width="1" height="4.0" fill="#8dcfc5"/><rect x="808" y="840.0" width="1" height="7.5" fill="#f7a5a2"/><rect x="809" y="839.4" width="1" height="8.1" fill="#8dcfc5"/><rect x="810" y="843.7" width="1" height="3.8" fill="#8dcfc5"/><rect x="811" y="839.4" width="1" height="8.1" fill="#f7a5a2"/><rect x="813" y="842.2" width="1" height="5.3" fill="#f7a5a2"/><rect x="814" y="837.7" width="1" height="9.8" fill="#f7a5a2"/><rect x="815" y="834.6" width="1" height="12.9" fill="#8dcfc5"/><rect x="816" y="840.7" width="1" height="6.8" fill="#8dcfc5"/><rect x="818" y="838.0" width="1" height="9.5" fill="#8dcfc5"/><rect x="819" y="841.9" width="1" height="5.6" fill="#8dcfc5"/><rect x="820" y="840.3" width="1" height="7.2" fill="#8dcfc5"/><rect x="821" y="833.9" width="1" height="13.6" fill="#8dcfc5"/><rect x="823" y="839.6" width="1" height="7.9" fill="#8dcfc5"/><rect x="824" y="843.0" width="1" height="4.5" fill="#f7a5a2"/><rect x="825" y="843.8" width="1" height="3.7" fill="#f7a5a2"/><rect x="826" y="839.9" width="1" height="7.6" fill="#f7a5a2"/><rect x="827" y="843.1" width="1" height="4.4" fill="#f7a5a2"/><rect x="829" y="836.9" width="1" height="10.6" fill="#f7a5a2"/><rect x="830" y="843.9" width="1" height="3.6" fill="#f7a5a2"/><rect x="831" y="838.9" width="1" height="8.6" fill="#8dcfc5"/><rect x="832" y="841.4" width="1" height="6.1" fill="#f7a5a2"/><rect x="834" y="839.9" width="1" height="7.6" fill="#f7a5a2"/><rect x="835" y="838.3" width="1" height="9.2" fill="#8dcfc5"/><rect x="836" y="836.7" width="1" height="10.8" fill="#8dcfc5"/><rect x="837" y="841.7" width="1" height="5.8" fill="#f7a5a2"/><rect x="839" y="842.1" width="1" height="5.4" fill="#f7a5a2"/><rect x="840" y="837.4" width="1" height="10.1" fill="#f7a5a2"/><rect x="841" y="840.1" width="1" height="7.4" fill="#f7a5a2"/><rect x="842" y="844.0" width="1" height="3.5" fill="#f7a5a2"/><rect x="844" y="843.1" width="1" height="4.4" fill="#f7a5a2"/><rect x="845" y="837.6" width="1" height="9.9" fill="#8dcfc5"/><rect x="846" y="841.0" width="1" height="6.5" fill="#8dcfc5"/><rect x="847" y="841.9" width="1" height="5.6" fill="#f7a5a2"/><rect x="849" y="834.0" width="1" height="13.5" fill="#f7a5a2"/><rect x="850" y="845.3" width="1" height="2.2" fill="#f7a5a2"/><rect x="851" y="845.1" width="1" height="2.4" fill="#8dcfc5"/><rect x="852" y="833.0" width="1" height="14.5" fill="#8dcfc5"/><rect x="853" y="843.2" width="1" height="4.3" fill="#8dcfc5"/><rect x="855" y="843.8" width="1" height="3.7" fill="#f7a5a2"/><rect x="856" y="839.4" width="1" height="8.1" fill="#8dcfc5"/><rect x="857" y="822.0" width="1" height="25.5" fill="#8dcfc5"/><rect x="858" y="843.4" width="1" height="4.1" fill="#f7a5a2"/><rect x="860" y="838.3" width="1" height="9.2" fill="#f7a5a2"/><rect x="861" y="837.7" width="1" height="9.8" fill="#f7a5a2"/><rect x="862" y="839.3" width="1" height="8.2" fill="#f7a5a2"/><rect x="863" y="841.8" width="1" height="5.7" fill="#f7a5a2"/><rect x="865" y="842.4" width="1" height="5.1" fill="#f7a5a2"/><rect x="866" y="843.3" width="1" height="4.2" fill="#8dcfc5"/><rect x="867" y="843.1" width="1" height="4.4" fill="#f7a5a2"/><rect x="868" y="839.8" width="1" height="7.7" fill="#8dcfc5"/><rect x="870" y="844.6" width="1" height="2.9" fill="#8dcfc5"/><rect x="871" y="842.7" width="1" height="4.8" fill="#8dcfc5"/><rect x="872" y="837.7" width="1" height="9.8" fill="#f7a5a2"/><rect x="873" y="842.1" width="1" height="5.4" fill="#8dcfc5"/><rect x="875" y="843.2" width="1" height="4.3" fill="#8dcfc5"/><rect x="876" y="834.1" width="1" height="13.4" fill="#8dcfc5"/><rect x="877" y="831.2" width="1" height="16.3" fill="#f7a5a2"/><rect x="878" y="842.7" width="1" height="4.8" fill="#8dcfc5"/><rect x="879" y="844.5" width="1" height="3.0" fill="#f7a5a2"/><rect x="881" y="840.2" width="1" height="7.3" fill="#f7a5a2"/><rect x="882" y="810.0" width="1" height="37.5" fill="#f7a5a2"/><rect x="883" y="844.0" width="1" height="3.5" fill="#f7a5a2"/><rect x="884" y="841.5" width="1" height="6.0" fill="#8dcfc5"/><rect x="886" y="838.0" width="1" height="9.5" fill="#f7a5a2"/><rect x="887" y="839.0" width="1" height="8.5" fill="#f7a5a2"/><rect x="888" y="839.9" width="1" height="7.6" fill="#8dcfc5"/><rect x="889" y="836.4" width="1" height="11.1" fill="#8dcfc5"/><rect x="891" y="837.1" width="1" height="10.4" fill="#f7a5a2"/><rect x="892" y="835.0" width="1" height="12.5" fill="#8dcfc5"/><rect x="893" y="829.6" width="1" height="17.9" fill="#f7a5a2"/><rect x="894" y="840.6" width="1" height="6.9" fill="#8dcfc5"/><rect x="896" y="834.0" width="1" height="13.5" fill="#f7a5a2"/><rect x="897" y="841.1" width="1" height="6.4" fill="#8dcfc5"/><rect x="898" y="842.9" width="1" height="4.6" fill="#f7a5a2"/><rect x="899" y="843.1" width="1" height="4.4" fill="#8dcfc5"/><rect x="901" y="831.9" width="1" height="15.6" fill="#8dcfc5"/><rect x="902" y="843.4" width="1" height="4.1" fill="#8dcfc5"/><rect x="903" y="842.0" width="1" height="5.5" fill="#8dcfc5"/><rect x="904" y="836.2" width="1" height="11.3" fill="#f7a5a2"/><rect x="905" y="844.5" width="1" height="3.0" fill="#f7a5a2"/><rect x="907" y="841.7" width="1" height="5.8" fill="#f7a5a2"/><rect x="908" y="842.6" width="1" height="4.9" fill="#f7a5a2"/><rect x="909" y="845.2" width="1" height="2.3" fill="#8dcfc5"/><rect x="910" y="843.9" width="1" height="3.6" fill="#f7a5a2"/><rect x="912" y="841.9" width="1" height="5.6" fill="#8dcfc5"/><rect x="913" y="843.4" width="1" height="4.1" fill="#f7a5a2"/><rect x="914" y="815.9" width="1" height="31.6" fill="#f7a5a2"/><rect x="915" y="843.9" width="1" height="3.6" fill="#8dcfc5"/><rect x="917" y="839.6" width="1" height="7.9" fill="#f7a5a2"/><rect x="918" y="839.7" width="1" height="7.8" fill="#8dcfc5"/><rect x="919" y="838.3" width="1" height="9.2" fill="#f7a5a2"/><rect x="920" y="840.6" width="1" height="6.9" fill="#f7a5a2"/><rect x="922" y="812.0" width="1" height="35.5" fill="#8dcfc5"/><rect x="923" y="841.6" width="1" height="5.9" fill="#f7a5a2"/><rect x="924" y="837.8" width="1" height="9.7" fill="#f7a5a2"/><rect x="925" y="844.9" width="1" height="2.6" fill="#f7a5a2"/><rect x="927" y="844.0" width="1" height="3.5" fill="#8dcfc5"/><rect x="928" y="843.8" width="1" height="3.7" fill="#f7a5a2"/><rect x="929" y="842.0" width="1" height="5.5" fill="#8dcfc5"/><rect x="930" y="843.8" width="1" height="3.7" fill="#f7a5a2"/><rect x="931" y="839.6" width="1" height="7.9" fill="#8dcfc5"/><rect x="933" y="838.7" width="1" height="8.8" fill="#f7a5a2"/><rect x="934" y="842.2" width="1" height="5.3" fill="#f7a5a2"/><rect x="935" y="840.4" width="1" height="7.1" fill="#f7a5a2"/><rect x="936" y="842.2" width="1" height="5.3" fill="#8dcfc5"/><rect x="938" y="841.3" width="1" height="6.2" fill="#f7a5a2"/><rect x="939" y="839.9" width="1" height="7.6" fill="#f7a5a2"/><rect x="940" y="667.0" width="1" height="180.5" fill="#f7a5a2"/><rect x="941" y="839.0" width="1" height="8.5" fill="#8dcfc5"/><rect x="943" y="840.0" width="1" height="7.5" fill="#f7a5a2"/><rect x="944" y="808.0" width="1" height="39.5" fill="#8dcfc5"/><rect x="945" y="839.2" width="1" height="8.3" fill="#8dcfc5"/><rect x="946" y="837.8" width="1" height="9.7" fill="#f7a5a2"/><rect x="948" y="827.4" width="1" height="20.1" fill="#f7a5a2"/><rect x="949" y="839.0" width="1" height="8.5" fill="#f7a5a2"/><rect x="950" y="843.3" width="1" height="4.2" fill="#8dcfc5"/><rect x="951" y="842.9" width="1" height="4.6" fill="#f7a5a2"/><rect x="953" y="843.8" width="1" height="3.7" fill="#8dcfc5"/><rect x="954" y="825.0" width="1" height="22.5" fill="#f7a5a2"/><rect x="955" y="845.6" width="1" height="1.9" fill="#8dcfc5"/><rect x="956" y="840.9" width="1" height="6.6" fill="#f7a5a2"/><rect x="957" y="842.5" width="1" height="5.0" fill="#f7a5a2"/><rect x="959" y="839.3" width="1" height="8.2" fill="#f7a5a2"/><rect x="960" y="839.4" width="1" height="8.1" fill="#8dcfc5"/><rect x="961" y="842.0" width="1" height="5.5" fill="#f7a5a2"/><rect x="962" y="834.6" width="1" height="12.9" fill="#f7a5a2"/><rect x="964" y="839.9" width="1" height="7.6" fill="#8dcfc5"/><rect x="965" y="840.6" width="1" height="6.9" fill="#8dcfc5"/><rect x="966" y="838.6" width="1" height="8.9" fill="#f7a5a2"/><rect x="967" y="844.6" width="1" height="2.9" fill="#8dcfc5"/><rect x="969" y="836.6" width="1" height="10.9" fill="#8dcfc5"/><rect x="970" y="844.4" width="1" height="3.1" fill="#f7a5a2"/><rect x="971" y="835.6" width="1" height="11.9" fill="#8dcfc5"/><rect x="972" y="841.6" width="1" height="5.9" fill="#f7a5a2"/><rect x="974" y="839.8" width="1" height="7.7" fill="#8dcfc5"/><rect x="975" y="840.9" width="1" height="6.6" fill="#f7a5a2"/><rect x="976" y="842.8" width="1" height="4.7" fill="#8dcfc5"/><rect x="977" y="837.7" width="1" height="9.8" fill="#8dcfc5"/><rect x="979" y="843.3" width="1" height="4.2" fill="#f7a5a2"/><rect x="980" y="834.9" width="1" height="12.6" fill="#f7a5a2"/><rect x="981" y="837.0" width="1" height="10.5" fill="#f7a5a2"/><rect x="982" y="842.2" width="1" height="5.3" fill="#f7a5a2"/><rect x="983" y="840.6" width="1" height="6.9" fill="#8dcfc5"/><rect x="985" y="842.7" width="1" height="4.8" fill="#8dcfc5"/><rect x="986" y="841.5" width="1" height="6.0" fill="#f7a5a2"/><rect x="987" y="842.4" width="1" height="5.1" fill="#f7a5a2"/><rect x="988" y="842.5" width="1" height="5.0" fill="#f7a5a2"/><rect x="990" y="836.3" width="1" height="11.2" fill="#8dcfc5"/><rect x="991" y="842.8" width="1" height="4.7" fill="#8dcfc5"/><rect x="992" y="838.3" width="1" height="9.2" fill="#8dcfc5"/><rect x="993" y="837.9" width="1" height="9.6" fill="#f7a5a2"/><rect x="995" y="826.7" width="1" height="20.8" fill="#8dcfc5"/><rect x="996" y="822.7" width="1" height="24.8" fill="#f7a5a2"/><rect x="997" y="828.0" width="1" height="19.5" fill="#8dcfc5"/><rect x="998" y="839.7" width="1" height="7.8" fill="#8dcfc5"/><rect x="1000" y="833.6" width="1" height="13.9" fill="#f7a5a2"/><rect x="1001" y="840.4" width="1" height="7.1" fill="#8dcfc5"/><rect x="1002" y="829.4" width="1" height="18.1" fill="#f7a5a2"/><rect x="1003" y="837.6" width="1" height="9.9" fill="#8dcfc5"/><rect x="1005" y="834.7" width="1" height="12.8" fill="#f7a5a2"/><rect x="1006" y="841.9" width="1" height="5.6" fill="#8dcfc5"/><rect x="1007" y="842.1" width="1" height="5.4" fill="#f7a5a2"/><rect x="1008" y="844.1" width="1" height="3.4" fill="#8dcfc5"/><rect x="1009" y="843.8" width="1" height="3.7" fill="#8dcfc5"/><rect x="1011" y="843.6" width="1" height="3.9" fill="#f7a5a2"/><rect x="1012" y="778.0" width="1" height="69.5" fill="#f7a5a2"/><rect x="1013" y="841.1" width="1" height="6.4" fill="#8dcfc5"/><rect x="1014" y="842.9" width="1" height="4.6" fill="#f7a5a2"/><rect x="1016" y="841.6" width="1" height="5.9" fill="#8dcfc5"/><rect x="1017" y="837.1" width="1" height="10.4" fill="#8dcfc5"/><rect x="1018" y="840.5" width="1" height="7.0" fill="#8dcfc5"/><rect x="1019" y="839.6" width="1" height="7.9" fill="#f7a5a2"/><rect x="1021" y="843.2" width="1" height="4.3" fill="#8dcfc5"/><rect x="1022" y="842.2" width="1" height="5.3" fill="#f7a5a2"/><rect x="1023" y="846.0" width="1" height="1.5" fill="#8dcfc5"/><rect x="1024" y="836.3" width="1" height="11.2" fill="#f7a5a2"/><rect x="1026" y="840.5" width="1" height="7.0" fill="#f7a5a2"/><rect x="1027" y="846.0" width="1" height="1.5" fill="#8dcfc5"/><rect x="1028" y="821.8" width="1" height="25.7" fill="#f7a5a2"/><rect x="1029" y="821.1" width="1" height="26.4" fill="#f7a5a2"/><rect x="1031" y="835.2" width="1" height="12.3" fill="#8dcfc5"/><rect x="1032" y="843.4" width="1" height="4.1" fill="#8dcfc5"/><rect x="1033" y="837.8" width="1" height="9.7" fill="#8dcfc5"/><rect x="1034" y="843.2" width="1" height="4.3" fill="#f7a5a2"/><rect x="1035" y="833.0" width="1" height="14.5" fill="#f7a5a2"/><rect x="1037" y="843.2" width="1" height="4.3" fill="#8dcfc5"/><rect x="1038" y="843.3" width="1" height="4.2" fill="#8dcfc5"/><rect x="1039" y="837.8" width="1" height="9.7" fill="#f7a5a2"/><rect x="1040" y="836.3" width="1" height="11.2" fill="#f7a5a2"/><rect x="1042" y="819.2" width="1" height="28.3" fill="#8dcfc5"/><rect x="1043" y="832.4" width="1" height="15.1" fill="#f7a5a2"/><rect x="1044" y="840.5" width="1" height="7.0" fill="#8dcfc5"/><rect x="1045" y="824.3" width="1" height="23.2" fill="#8dcfc5"/><rect x="1047" y="841.3" width="1" height="6.2" fill="#8dcfc5"/><rect x="1048" y="833.3" width="1" height="14.2" fill="#f7a5a2"/><rect x="1049" y="837.9" width="1" height="9.6" fill="#f7a5a2"/><rect x="1050" y="826.2" width="1" height="21.3" fill="#8dcfc5"/><rect x="1052" y="832.9" width="1" height="14.6" fill="#8dcfc5"/><rect x="1053" y="830.7" width="1" height="16.8" fill="#f7a5a2"/><rect x="1054" y="831.1" width="1" height="16.4" fill="#8dcfc5"/><rect x="1055" y="819.0" width="1" height="28.5" fill="#f7a5a2"/><rect x="1057" y="841.6" width="1" height="5.9" fill="#8dcfc5"/><rect x="1058" y="831.5" width="1" height="16.0" fill="#8dcfc5"/><rect x="1059" y="820.1" width="1" height="27.4" fill="#8dcfc5"/><rect x="1060" y="830.5" width="1" height="17.0" fill="#f7a5a2"/><rect x="1061" y="819.4" width="1" height="28.1" fill="#f7a5a2"/><rect x="1063" y="837.4" width="1" height="10.1" fill="#8dcfc5"/><rect x="1064" y="828.0" width="1" height="19.5" fill="#f7a5a2"/><rect x="1065" y="840.9" width="1" height="6.6" fill="#f7a5a2"/><rect x="1066" y="839.7" width="1" height="7.8" fill="#f7a5a2"/><rect x="1068" y="837.0" width="1" height="10.5" fill="#f7a5a2"/><rect x="1069" y="840.2" width="1" height="7.3" fill="#f7a5a2"/><rect x="1070" y="821.2" width="1" height="26.3" fill="#f7a5a2"/><rect x="1071" y="837.6" width="1" height="9.9" fill="#f7a5a2"/><rect x="1073" y="817.3" width="1" height="30.2" fill="#8dcfc5"/><rect x="1074" y="834.9" width="1" height="12.6" fill="#f7a5a2"/><rect x="1075" y="836.9" width="1" height="10.6" fill="#f7a5a2"/><rect x="1076" y="825.6" width="1" height="21.9" fill="#8dcfc5"/><rect x="1078" y="842.3" width="1" height="5.2" fill="#f7a5a2"/><rect x="1079" y="826.8" width="1" height="20.7" fill="#f7a5a2"/><rect x="1080" y="844.0" width="1" height="3.5" fill="#f7a5a2"/><rect x="1081" y="835.2" width="1" height="12.3" fill="#8dcfc5"/><rect x="1083" y="833.6" width="1" height="13.9" fill="#f7a5a2"/><rect x="1084" y="820.8" width="1" height="26.7" fill="#8dcfc5"/><rect x="1085" y="837.3" width="1" height="10.2" fill="#8dcfc5"/><rect x="1086" y="810.3" width="1" height="37.2" fill="#f7a5a2"/><rect x="1087" y="819.0" width="1" height="28.5" fill="#8dcfc5"/><rect x="1089" y="837.1" width="1" height="10.4" fill="#8dcfc5"/><rect x="1090" y="817.0" width="1" height="30.5" fill="#8dcfc5"/><rect x="1091" y="833.6" width="1" height="13.9" fill="#f7a5a2"/><rect x="1092" y="843.9" width="1" height="3.6" fill="#f7a5a2"/><rect x="1094" y="826.1" width="1" height="21.4" fill="#8dcfc5"/><rect x="1095" y="836.8" width="1" height="10.7" fill="#f7a5a2"/><rect x="1096" y="838.5" width="1" height="9.0" fill="#f7a5a2"/><rect x="1097" y="829.4" width="1" height="18.1" fill="#f7a5a2"/><rect x="1099" y="837.4" width="1" height="10.1" fill="#f7a5a2"/><rect x="1100" y="838.0" width="1" height="9.5" fill="#8dcfc5"/><rect x="1101" y="845.2" width="1" height="2.3" fill="#8dcfc5"/><rect x="1102" y="832.0" width="1" height="15.5" fill="#f7a5a2"/><rect x="1104" y="835.6" width="1" height="11.9" fill="#f7a5a2"/><rect x="1105" y="844.3" width="1" height="3.2" fill="#8dcfc5"/><rect x="1106" y="836.3" width="1" height="11.2" fill="#f7a5a2"/><rect x="1107" y="829.9" width="1" height="17.6" fill="#f7a5a2"/><rect x="1109" y="844.8" width="1" height="2.7" fill="#8dcfc5"/><rect x="1110" y="811.0" width="1" height="36.5" fill="#f7a5a2"/><rect x="1111" y="840.9" width="1" height="6.6" fill="#f7a5a2"/><rect x="1112" y="843.3" width="1" height="4.2" fill="#8dcfc5"/><rect x="1113" y="844.4" width="1" height="3.1" fill="#8dcfc5"/><rect x="1115" y="837.1" width="1" height="10.4" fill="#8dcfc5"/><rect x="1116" y="841.7" width="1" height="5.8" fill="#8dcfc5"/><rect x="1117" y="844.1" width="1" height="3.4" fill="#f7a5a2"/><rect x="1118" y="846.0" width="1" height="1.5" fill="#f7a5a2"/><rect x="1120" y="844.4" width="1" height="3.1" fill="#f7a5a2"/><rect x="1121" y="837.9" width="1" height="9.6" fill="#8dcfc5"/><rect x="1122" y="840.6" width="1" height="6.9" fill="#f7a5a2"/><rect x="1123" y="837.5" width="1" height="10.0" fill="#f7a5a2"/><rect x="1125" y="841.6" width="1" height="5.9" fill="#f7a5a2"/><rect x="1126" y="842.7" width="1" height="4.8" fill="#8dcfc5"/><rect x="1127" y="844.4" width="1" height="3.1" fill="#f7a5a2"/><rect x="1128" y="844.3" width="1" height="3.2" fill="#8dcfc5"/><rect x="1130" y="842.1" width="1" height="5.4" fill="#f7a5a2"/><rect x="1131" y="845.2" width="1" height="2.3" fill="#f7a5a2"/><rect x="1132" y="829.7" width="1" height="17.8" fill="#8dcfc5"/><rect x="1133" y="840.8" width="1" height="6.7" fill="#8dcfc5"/><rect x="1135" y="837.6" width="1" height="9.9" fill="#8dcfc5"/><rect x="1136" y="841.0" width="1" height="6.5" fill="#8dcfc5"/><rect x="1137" y="834.9" width="1" height="12.6" fill="#f7a5a2"/><rect x="1138" y="836.3" width="1" height="11.2" fill="#8dcfc5"/><rect x="1139" y="837.6" width="1" height="9.9" fill="#f7a5a2"/><rect x="1141" y="837.6" width="1" height="9.9" fill="#f7a5a2"/><rect x="1142" y="843.7" width="1" height="3.8" fill="#8dcfc5"/><rect x="1143" y="841.7" width="1" height="5.8" fill="#f7a5a2"/><rect x="1144" y="842.4" width="1" height="5.1" fill="#f7a5a2"/><rect x="1146" y="840.9" width="1" height="6.6" fill="#f7a5a2"/><rect x="1147" y="844.1" width="1" height="3.4" fill="#8dcfc5"/><rect x="1148" y="842.7" width="1" height="4.8" fill="#f7a5a2"/><rect x="1149" y="840.3" width="1" height="7.2" fill="#8dcfc5"/><rect x="1151" y="842.9" width="1" height="4.6" fill="#8dcfc5"/><rect x="1152" y="844.3" width="1" height="3.2" fill="#8dcfc5"/><rect x="1153" y="838.4" width="1" height="9.1" fill="#8dcfc5"/><rect x="1154" y="841.9" width="1" height="5.6" fill="#f7a5a2"/><rect x="1156" y="841.2" width="1" height="6.3" fill="#8dcfc5"/><rect x="1157" y="842.0" width="1" height="5.5" fill="#f7a5a2"/><rect x="1158" y="845.0" width="1" height="2.5" fill="#8dcfc5"/><rect x="1159" y="839.7" width="1" height="7.8" fill="#f7a5a2"/><rect x="1161" y="841.2" width="1" height="6.3" fill="#8dcfc5"/><rect x="1162" y="844.4" width="1" height="3.1" fill="#f7a5a2"/><rect x="1163" y="844.9" width="1" height="2.6" fill="#f7a5a2"/><rect x="1164" y="838.8" width="1" height="8.7" fill="#f7a5a2"/><rect x="1165" y="840.2" width="1" height="7.3" fill="#8dcfc5"/><rect x="1167" y="843.1" width="1" height="4.4" fill="#8dcfc5"/><rect x="1168" y="837.0" width="1" height="10.5" fill="#8dcfc5"/><rect x="1169" y="835.7" width="1" height="11.8" fill="#8dcfc5"/><rect x="1170" y="842.8" width="1" height="4.7" fill="#8dcfc5"/><rect x="1172" y="843.3" width="1" height="4.2" fill="#8dcfc5"/><rect x="1173" y="839.5" width="1" height="8.0" fill="#f7a5a2"/><rect x="1174" y="843.4" width="1" height="4.1" fill="#f7a5a2"/><rect x="1175" y="838.3" width="1" height="9.2" fill="#f7a5a2"/><rect x="1177" y="844.0" width="1" height="3.5" fill="#f7a5a2"/><rect x="1178" y="839.8" width="1" height="7.7" fill="#8dcfc5"/><rect x="1179" y="836.3" width="1" height="11.2" fill="#8dcfc5"/><rect x="1180" y="839.8" width="1" height="7.7" fill="#f7a5a2"/><rect x="1182" y="841.2" width="1" height="6.3" fill="#f7a5a2"/><rect x="1183" y="839.8" width="1" height="7.7" fill="#f7a5a2"/><rect x="1184" y="843.5" width="1" height="4.0" fill="#8dcfc5"/><rect x="1185" y="841.3" width="1" height="6.2" fill="#f7a5a2"/><rect x="1187" y="837.0" width="1" height="10.5" fill="#8dcfc5"/><rect x="1188" y="841.3" width="1" height="6.2" fill="#f7a5a2"/><rect x="1189" y="845.6" width="1" height="1.9" fill="#f7a5a2"/><rect x="1190" y="844.7" width="1" height="2.8" fill="#8dcfc5"/><rect x="1191" y="843.1" width="1" height="4.4" fill="#8dcfc5"/><rect x="1193" y="839.1" width="1" height="8.4" fill="#8dcfc5"/><rect x="1194" y="842.9" width="1" height="4.6" fill="#8dcfc5"/><rect x="1195" y="836.7" width="1" height="10.8" fill="#8dcfc5"/><rect x="1196" y="840.0" width="1" height="7.5" fill="#f7a5a2"/><rect x="1198" y="841.0" width="1" height="6.5" fill="#f7a5a2"/><rect x="1199" y="840.4" width="1" height="7.1" fill="#8dcfc5"/><rect x="1200" y="844.1" width="1" height="3.4" fill="#f7a5a2"/><rect x="1201" y="842.5" width="1" height="5.0" fill="#f7a5a2"/><rect x="1203" y="834.0" width="1" height="13.5" fill="#8dcfc5"/><rect x="1204" y="839.9" width="1" height="7.6" fill="#f7a5a2"/><rect x="1205" y="843.6" width="1" height="3.9" fill="#8dcfc5"/><rect x="1206" y="840.3" width="1" height="7.2" fill="#f7a5a2"/><rect x="1208" y="844.7" width="1" height="2.8" fill="#8dcfc5"/><rect x="1209" y="835.0" width="1" height="12.5" fill="#8dcfc5"/><rect x="1210" y="840.0" width="1" height="7.5" fill="#8dcfc5"/><rect x="1211" y="841.9" width="1" height="5.6" fill="#8dcfc5"/><rect x="1213" y="842.0" width="1" height="5.5" fill="#8dcfc5"/><rect x="1214" y="841.8" width="1" height="5.7" fill="#8dcfc5"/><rect x="1215" y="841.7" width="1" height="5.8" fill="#f7a5a2"/><rect x="1216" y="844.4" width="1" height="3.1" fill="#8dcfc5"/><rect x="1217" y="846.0" width="1" height="1.5" fill="#f7a5a2"/><rect x="1219" y="840.8" width="1" height="6.7" fill="#8dcfc5"/><rect x="1220" y="844.1" width="1" height="3.4" fill="#f7a5a2"/><rect x="1221" y="844.1" width="1" height="3.4" fill="#f7a5a2"/><rect x="1222" y="840.2" width="1" height="7.3" fill="#f7a5a2"/><rect x="1224" y="841.6" width="1" height="5.9" fill="#f7a5a2"/><rect x="1225" y="842.6" width="1" height="4.9" fill="#8dcfc5"/><rect x="1226" y="843.3" width="1" height="4.2" fill="#f7a5a2"/><rect x="1227" y="844.2" width="1" height="3.3" fill="#f7a5a2"/><rect x="1229" y="843.9" width="1" height="3.6" fill="#8dcfc5"/><rect x="1230" y="822.6" width="1" height="24.9" fill="#8dcfc5"/><rect x="1231" y="819.0" width="1" height="28.5" fill="#f7a5a2"/><rect x="1232" y="835.3" width="1" height="12.2" fill="#8dcfc5"/><rect x="1234" y="831.9" width="1" height="15.6" fill="#f7a5a2"/><rect x="1235" y="832.2" width="1" height="15.3" fill="#f7a5a2"/><rect x="1236" y="843.2" width="1" height="4.3" fill="#8dcfc5"/><rect x="1237" y="838.8" width="1" height="8.7" fill="#8dcfc5"/><rect x="1239" y="844.5" width="1" height="3.0" fill="#f7a5a2"/><rect x="1240" y="840.3" width="1" height="7.2" fill="#8dcfc5"/><rect x="1241" y="833.2" width="1" height="14.3" fill="#f7a5a2"/><rect x="1242" y="835.3" width="1" height="12.2" fill="#8dcfc5"/><rect x="1243" y="839.4" width="1" height="8.1" fill="#f7a5a2"/><rect x="1245" y="836.1" width="1" height="11.4" fill="#f7a5a2"/><rect x="1246" y="843.5" width="1" height="4.0" fill="#f7a5a2"/><rect x="1247" y="842.6" width="1" height="4.9" fill="#8dcfc5"/><rect x="1248" y="838.2" width="1" height="9.3" fill="#8dcfc5"/><rect x="1250" y="843.0" width="1" height="4.5" fill="#f7a5a2"/><rect x="1251" y="836.1" width="1" height="11.4" fill="#8dcfc5"/><rect x="1252" y="840.9" width="1" height="6.6" fill="#f7a5a2"/><rect x="1253" y="840.9" width="1" height="6.6" fill="#8dcfc5"/><rect x="1255" y="830.5" width="1" height="17.0" fill="#f7a5a2"/><rect x="1256" y="829.5" width="1" height="18.0" fill="#f7a5a2"/><rect x="1257" y="837.0" width="1" height="10.5" fill="#8dcfc5"/><rect x="1258" y="844.0" width="1" height="3.5" fill="#8dcfc5"/><rect x="1260" y="837.9" width="1" height="9.6" fill="#8dcfc5"/><rect x="1261" y="835.8" width="1" height="11.7" fill="#f7a5a2"/><rect x="1262" y="842.4" width="1" height="5.1" fill="#f7a5a2"/><rect x="1263" y="840.5" width="1" height="7.0" fill="#f7a5a2"/><rect x="1264" y="842.1" width="1" height="5.4" fill="#8dcfc5"/><rect x="1266" y="831.4" width="1" height="16.1" fill="#8dcfc5"/><rect x="1267" y="839.1" width="1" height="8.4" fill="#8dcfc5"/><rect x="1268" y="841.5" width="1" height="6.0" fill="#8dcfc5"/><rect x="1269" y="838.3" width="1" height="9.2" fill="#8dcfc5"/><rect x="1271" y="839.9" width="1" height="7.6" fill="#8dcfc5"/><rect x="1272" y="842.0" width="1" height="5.5" fill="#f7a5a2"/><rect x="1273" y="838.8" width="1" height="8.7" fill="#8dcfc5"/><rect x="1274" y="834.1" width="1" height="13.4" fill="#f7a5a2"/><rect x="1276" y="840.0" width="1" height="7.5" fill="#8dcfc5"/><rect x="1277" y="844.1" width="1" height="3.4" fill="#8dcfc5"/><rect x="1278" y="841.7" width="1" height="5.8" fill="#8dcfc5"/><rect x="1279" y="843.2" width="1" height="4.3" fill="#8dcfc5"/><rect x="1281" y="842.2" width="1" height="5.3" fill="#8dcfc5"/><rect x="1282" y="827.5" width="1" height="20.0" fill="#f7a5a2"/><rect x="1283" y="825.0" width="1" height="22.5" fill="#f7a5a2"/><rect x="1284" y="839.7" width="1" height="7.8" fill="#f7a5a2"/><rect x="1286" y="841.2" width="1" height="6.3" fill="#f7a5a2"/><rect x="1287" y="837.0" width="1" height="10.5" fill="#f7a5a2"/><rect x="1288" y="840.9" width="1" height="6.6" fill="#f7a5a2"/><rect x="1289" y="836.6" width="1" height="10.9" fill="#8dcfc5"/><rect x="1290" y="838.7" width="1" height="8.8" fill="#8dcfc5"/><rect x="1292" y="841.9" width="1" height="5.6" fill="#8dcfc5"/><rect x="1293" y="843.4" width="1" height="4.1" fill="#8dcfc5"/><rect x="1294" y="843.0" width="1" height="4.5" fill="#8dcfc5"/><rect x="1295" y="843.9" width="1" height="3.6" fill="#8dcfc5"/><rect x="1297" y="845.0" width="1" height="2.5" fill="#f7a5a2"/><rect x="1298" y="823.9" width="1" height="23.6" fill="#f7a5a2"/><rect x="1299" y="836.7" width="1" height="10.8" fill="#8dcfc5"/><rect x="1300" y="840.0" width="1" height="7.5" fill="#f7a5a2"/><rect x="1302" y="834.7" width="1" height="12.8" fill="#8dcfc5"/><rect x="1303" y="834.6" width="1" height="12.9" fill="#8dcfc5"/><rect x="1304" y="841.9" width="1" height="5.6" fill="#f7a5a2"/><rect x="1305" y="839.4" width="1" height="8.1" fill="#f7a5a2"/><rect x="1307" y="820.8" width="1" height="26.7" fill="#8dcfc5"/><rect x="1308" y="841.3" width="1" height="6.2" fill="#8dcfc5"/><rect x="1309" y="841.6" width="1" height="5.9" fill="#f7a5a2"/><rect x="1310" y="842.1" width="1" height="5.4" fill="#8dcfc5"/><rect x="1312" y="841.2" width="1" height="6.3" fill="#f7a5a2"/><rect x="1313" y="839.5" width="1" height="8.0" fill="#8dcfc5"/><rect x="1314" y="841.4" width="1" height="6.1" fill="#f7a5a2"/><rect x="1315" y="833.4" width="1" height="14.1" fill="#8dcfc5"/><rect x="1316" y="839.5" width="1" height="8.0" fill="#8dcfc5"/><rect x="1318" y="834.8" width="1" height="12.7" fill="#8dcfc5"/><rect x="1319" y="844.2" width="1" height="3.3" fill="#f7a5a2"/><rect x="1320" y="842.5" width="1" height="5.0" fill="#8dcfc5"/><rect x="1321" y="840.9" width="1" height="6.6" fill="#f7a5a2"/><rect x="1323" y="842.6" width="1" height="4.9" fill="#8dcfc5"/><rect x="1324" y="840.5" width="1" height="7.0" fill="#f7a5a2"/><rect x="1325" y="841.9" width="1" height="5.6" fill="#f7a5a2"/><rect x="1326" y="840.4" width="1" height="7.1" fill="#8dcfc5"/><rect x="1328" y="833.5" width="1" height="14.0" fill="#f7a5a2"/><rect x="1329" y="841.3" width="1" height="6.2" fill="#f7a5a2"/><rect x="1330" y="843.0" width="1" height="4.5" fill="#8dcfc5"/><rect x="1331" y="832.9" width="1" height="14.6" fill="#8dcfc5"/><rect x="1333" y="824.5" width="1" height="23.0" fill="#8dcfc5"/><rect x="1334" y="842.7" width="1" height="4.8" fill="#8dcfc5"/><rect x="1335" y="834.3" width="1" height="13.2" fill="#8dcfc5"/><rect x="1336" y="839.9" width="1" height="7.6" fill="#8dcfc5"/><rect x="1338" y="843.6" width="1" height="3.9" fill="#8dcfc5"/><rect x="1339" y="843.2" width="1" height="4.3" fill="#f7a5a2"/><rect x="1340" y="845.7" width="1" height="1.8" fill="#f7a5a2"/><rect x="1341" y="841.6" width="1" height="5.9" fill="#f7a5a2"/><rect x="1342" y="829.6" width="1" height="17.9" fill="#f7a5a2"/></g>
<line x1="535" y1="325.5" x2="1528" y2="757" stroke="#f23645" stroke-width="3" stroke-dasharray="3 6"/>
<path d="M1.3,190.5 L2.6,198.8 L5.1,199.5 L7.7,186.7 L8.3,193.7 L10.3,194.4 L10.3,202.7 L12.8,203.3 L13.5,208.5 L16.0,204.6 L20.5,210.4 L22.4,209.7 L22.8,191.2 L24.4,203.3 L27.6,200.8 L28.8,208.5 L34.0,207.8 L34.6,232.2 L37.2,230.3 L38.5,216.2 L41.7,215.5 L42.9,202.7 L46.2,203.3 L47.4,198.2 L48.7,207.8 L51.3,196.9 L56.4,205.3 L58.3,196.3 L62.2,201.4 L62.8,210.4 L67.3,213.6 L67.9,229.0 L69.9,232.2 L74.4,231.5 L75.0,219.4 L76.3,232.8 L76.9,248.2 L79.5,249.5 L78.8,261.0 L81.4,254.6 L82.0,294.4 L84.6,289.2 L84.6,273.8 L89.7,275.1 L91.7,252.0 L93.6,258.5 L97.4,263.0 L102.6,255.3 L107.7,258.5 L108.3,265.5 L112.2,258.5 L116.0,254.6 L116.7,277.0 L119.9,275.8 L121.8,279.6 L126.3,282.8 L126.9,277.7 L132.0,279.0 L134.6,274.5 L137.8,281.5 L141.7,279.6 L143.6,286.7 L146.8,290.5 L148.7,282.8 L151.3,277.7 L151.9,288.6 L155.8,289.2 L159.0,288.6 L159.0,280.3 L164.1,279.0 L169.2,282.2 L173.0,264.9 L173.7,277.0 L176.9,275.1 L178.8,282.2 L183.3,273.8 L185.9,278.3 L189.7,276.4 L191.7,282.8 L198.0,271.9 L200.0,279.6 L205.1,273.8 L210.3,277.7 L210.9,286.0 L213.5,285.4 L219.2,270.0 L220.5,278.3 L223.7,279.6 L224.1,296.9 L225.0,282.8 L230.1,277.7 L232.1,282.8 L239.7,282.8 L242.3,293.7 L246.2,294.4 L246.8,299.5 L250.0,293.7 L250.5,293.2 L251.1,302.0 L255.5,315.2 L262.1,308.0 L265.4,309.7 L269.8,306.4 L273.1,309.1 L273.1,313.0 L276.4,317.4 L281.9,319.0 L281.9,322.9 L284.1,320.7 L287.4,326.2 L290.1,324.0 L292.9,332.2 L296.2,330.5 L298.4,326.7 L302.7,322.3 L304.4,328.4 L307.7,337.7 L312.6,339.3 L313.2,332.7 L314.8,338.2 L318.1,337.1 L320.3,340.4 L323.1,334.4 L324.7,342.1 L327.5,340.4 L329.1,344.3 L333.5,343.2 L336.3,336.6 L338.5,338.2 L339.6,346.5 L344.0,344.8 L346.2,353.1 L346.2,362.4 L349.5,369.0 L352.2,366.8 L356.0,370.1 L356.6,363.5 L359.9,355.8 L361.5,371.2 L363.7,339.3 L365.4,364.6 L368.7,366.8 L370.9,347.0 L374.2,347.0 L378.6,363.0 L381.9,350.9 L385.2,354.7 L386.8,361.3 L386.3,374.5 L390.7,392.0 L391.7,379.6 L395.2,376.1 L397.8,387.4 L403.0,373.5 L408.3,381.3 L408.3,399.6 L411.7,398.7 L414.3,414.3 L416.1,418.7 L417.0,409.1 L421.3,410.0 L423.0,414.3 L427.4,403.9 L430.9,412.6 L433.5,410.0 L434.3,418.7 L439.6,419.6 L440.4,426.5 L443.9,426.5 L448.3,437.8 L453.5,436.1 L456.1,443.9 L461.3,449.1 L464.8,468.3 L469.1,467.4 L470.9,488.3 L475.2,481.3 L477.0,486.5 L479.6,464.8 L482.2,470.9 L484.8,470.9 L485.7,450.9 L489.1,438.7 L492.6,448.3 L494.3,438.7 L498.7,436.1 L500.4,419.6 L503.0,426.5 L505.7,417.0 L510.0,415.2 L511.7,397.8 L519.6,395.2 L526.5,397.8 L527.4,377.0 L529.1,355.2 L533.5,325.7 L534.3,343.0 L537.0,337.8 L538.7,360.4 L543.0,365.7 L545.9,364.2 L547.7,370.1 L551.0,365.6 L554.2,373.8 L559.2,367.4 L561.5,375.6 L567.0,369.2 L568.8,377.5 L573.4,381.1 L578.9,393.0 L583.5,382.5 L588.0,388.5 L589.0,393.0 L592.6,404.0 L594.9,395.8 L597.2,402.2 L599.9,392.6 L602.7,397.6 L605.9,391.7 L613.7,402.2 L619.6,397.6 L624.7,394.0 L632.9,393.5 L638.4,413.2 L642.1,408.2 L645.7,403.6 L651.2,413.2 L653.1,407.7 L659.5,405.9 L662.2,400.4 L667.3,407.2 L672.3,396.7 L673.2,406.8 L677.8,412.7 L681.0,410.9 L682.4,417.3 L686.9,415.9 L690.6,419.6 L691.5,426.0 L696.1,432.4 L697.0,437.9 L701.6,428.8 L703.4,439.3 L708.0,440.2 L712.6,434.7 L719.0,425.1 L720.6,425.6 L724.2,438.1 L728.9,435.7 L733.7,429.8 L734.9,438.1 L739.0,436.3 L740.8,426.8 L745.0,423.2 L745.6,431.0 L748.6,435.1 L753.9,431.5 L755.1,448.8 L760.5,452.4 L764.6,470.2 L770.0,456.0 L772.4,460.7 L775.4,460.7 L778.9,447.0 L780.1,457.1 L784.9,452.4 L788.5,458.3 L790.8,450.0 L792.6,464.3 L796.2,469.0 L796.8,480.4 L801.5,479.8 L803.3,486.9 L805.1,495.2 L808.1,486.9 L812.9,486.3 L815.2,492.3 L817.6,490.5 L821.2,496.4 L824.8,509.5 L827.1,517.9 L830.7,517.3 L832.5,496.4 L835.5,496.4 L837.9,519.0 L843.8,517.3 L847.4,503.0 L852.1,514.3 L856.9,507.1 L858.7,482.1 L859.9,496.4 L864.0,495.2 L865.8,471.4 L868.2,481.0 L870.0,508.3 L874.8,514.3 L876.2,519.5 L879.2,520.7 L879.8,531.4 L882.1,533.8 L883.3,544.5 L885.7,541.0 L887.5,549.3 L889.3,548.7 L889.9,535.0 L894.0,535.6 L894.6,549.3 L896.4,564.8 L898.8,564.8 L900.0,549.3 L901.2,544.5 L906.0,550.5 L908.9,544.5 L913.1,544.5 L913.7,555.2 L917.3,555.2 L919.0,562.4 L922.0,547.5 L922.6,562.4 L926.2,556.4 L927.4,562.4 L929.8,563.6 L933.3,571.3 L935.1,561.2 L938.7,557.0 L940.5,563.6 L941.1,578.5 L942.3,591.0 L943.5,602.9 L945.8,598.1 L946.4,587.4 L949.4,583.8 L953.0,572.5 L953.6,585.0 L957.1,582.6 L958.3,591.0 L960.7,592.1 L962.5,601.1 L966.1,599.9 L968.5,603.5 L971.4,603.5 L971.4,595.1 L973.8,590.4 L975.6,596.3 L979.2,599.3 L979.8,590.4 L982.1,584.4 L983.3,595.1 L986.3,596.3 L986.9,578.5 L989.3,587.4 L992.9,585.0 L994.0,592.1 L997.6,597.5 L1001.2,599.3 L1004.2,595.1 L1004.8,600.5 L1008.9,601.7 L1010.1,607.6 L1013.1,618.3 L1013.7,599.3 L1017.3,601.7 L1019.6,607.0 L1023.8,608.8 L1025.6,599.3 L1028.6,592.1 L1032.7,592.7 L1033.9,587.4 L1037.5,584.4 L1041.7,589.2 L1043.5,592.1 L1044.0,598.7 L1046.4,599.9 L1050.6,598.1 L1051.8,582.6 L1054.8,595.1 L1055.8,595.3 L1055.8,581.3 L1060.8,583.0 L1060.8,573.5 L1062.4,584.6 L1062.8,595.3 L1065.3,594.9 L1065.7,603.6 L1067.4,606.1 L1067.8,614.3 L1069.8,613.5 L1071.9,607.3 L1072.7,611.0 L1074.8,618.4 L1077.7,615.1 L1077.3,601.9 L1080.6,600.3 L1081.4,603.6 L1083.0,603.6 L1083.0,598.2 L1085.5,597.0 L1085.9,587.9 L1087.6,573.5 L1090.4,599.5 L1092.1,574.7 L1092.5,585.4 L1093.7,568.5 L1097.5,564.4 L1098.3,571.8 L1099.9,575.6 L1102.0,571.4 L1102.8,587.1 L1103.6,596.2 L1107.8,601.9 L1108.6,621.7 L1110.2,628.3 L1111.5,606.1 L1112.7,593.7 L1113.9,588.7 L1117.7,587.9 L1118.9,581.3 L1122.6,580.5 L1124.3,590.4 L1126.3,581.3 L1128.4,592.0 L1132.1,592.0 L1132.9,601.5 L1134.1,601.1 L1136.6,594.9 L1138.3,603.6 L1141.1,592.9 L1142.0,601.9 L1144.9,614.3 L1146.5,607.7 L1149.4,597.4 L1151.9,597.0 L1156.4,607.7 L1157.2,602.8 L1163.8,601.1 L1165.9,604.4 L1168.8,599.5 L1170.4,590.8 L1171.2,597.8 L1175.0,606.1 L1175.4,600.3 L1180.3,599.5 L1183.6,596.6 L1187.7,594.9 L1189.0,591.2 L1190.2,593.7 L1191.4,603.6 L1194.3,606.9 L1197.6,611.0 L1199.7,605.2 L1202.6,613.9 L1209.2,612.7 L1211.6,600.3 L1214.5,597.8 L1215.8,592.5 L1216.6,603.6 L1220.5,606.5 L1224.2,613.8 L1227.8,625.7 L1231.0,621.1 L1231.9,630.3 L1234.2,623.0 L1238.4,625.3 L1238.8,606.9 L1241.6,608.3 L1242.9,613.4 L1246.1,610.6 L1247.1,619.3 L1249.8,630.8 L1252.5,622.5 L1256.2,621.6 L1257.1,629.4 L1261.7,620.7 L1264.5,626.2 L1269.0,620.2 L1271.3,625.7 L1275.4,627.5 L1278.2,631.2 L1282.3,631.7 L1283.2,638.5 L1287.3,635.8 L1289.2,625.3 L1293.3,631.2 L1294.2,637.6 L1298.3,642.2 L1299.7,649.5 L1304.3,651.8 L1310.2,646.8 L1312.5,652.3 L1314.8,647.2 L1319.9,653.2 L1323.5,656.8 L1324.9,668.8 L1328.1,655.5 L1333.1,664.6 L1335.9,666.0 L1337.3,675.6 L1339.5,671.0 L1342.3,674.7 L1344.1,666.0" fill="none" stroke="#2962ff" stroke-width="3.4" stroke-linejoin="round" stroke-linecap="round"/>
<circle cx="1344" cy="666.5" r="5.5" fill="#2962ff"/>
<rect x="1299" y="277" width="328" height="36" rx="8" fill="#089981"/>
<rect x="1320" y="592" width="284" height="58" rx="9" fill="#089981"/>
<rect x="1329" y="771" width="266" height="36" rx="8" fill="#f44336"/>
<circle cx="1344.5" cy="826.3" r="19.5" fill="#fff"/>
<circle cx="1344.5" cy="826.3" r="17.6" fill="#fff" stroke="#9c27b0" stroke-width="2.4"/>
<path d="M1349.6,817.4 L1343.8,825.5 L1352.6,825.2 L1338.5,835.4 L1344.4,827.4 L1336,827.7 Z" fill="#9c27b0" stroke="#9c27b0" stroke-width="1.4" stroke-linejoin="round"/>
<rect x="0" y="909.5" width="1987" height="83" fill="#f2eff9"/>
<line x1="0" y1="909.5" x2="1988" y2="909.5" stroke="#787b86" stroke-width="1" stroke-dasharray="5 6"/>
<line x1="0" y1="950.5" x2="1988" y2="950.5" stroke="#b2b5be" stroke-width="1" stroke-dasharray="5 6"/>
<line x1="0" y1="992.5" x2="1988" y2="992.5" stroke="#787b86" stroke-width="1" stroke-dasharray="5 6"/>
<linearGradient id="gob" gradientUnits="userSpaceOnUse" x1="0" y1="869" x2="0" y2="909"><stop offset="0" stop-color="#b9cbc6"/><stop offset="1" stop-color="#f2f5f4"/></linearGradient><linearGradient id="gos" gradientUnits="userSpaceOnUse" x1="0" y1="993" x2="0" y2="1025"><stop offset="0" stop-color="#fff3f3"/><stop offset="1" stop-color="#f8c4c8"/></linearGradient><clipPath id="ob"><rect x="0" y="850" width="1988" height="59"/></clipPath><clipPath id="os"><rect x="0" y="993.2" width="1988" height="50"/></clipPath>
<path d="M0.0,967.4 L3.1,980.6 L7.0,951.8 L10.9,976.7 L14.8,983.7 L17.1,978.3 L19.5,983.7 L21.8,981.4 L23.3,939.4 L25.7,961.2 L27.2,954.2 L28.8,963.5 L31.9,956.5 L34.2,989.2 L37.4,976.0 L42.8,944.8 L46.7,937.8 L49.0,953.4 L51.4,937.8 L55.3,945.6 L59.1,937.0 L63.8,962.7 L66.9,967.4 L66.9,986.9 L69.3,973.6 L70.8,983.7 L73.9,957.3 L77.8,995.4 L80.9,987.6 L82.5,1008.6 L84.8,984.5 L89.5,976.7 L91.8,953.4 L94.9,962.7 L97.3,963.5 L102.7,951.8 L107.4,967.4 L110.5,954.9 L115.2,946.4 L116.7,979.8 L123.0,981.4 L126.1,986.9 L127.6,973.6 L133.1,961.2 L137.0,967.4 L140.1,970.5 L144.0,984.5 L146.3,993.9 L149.4,947.9 L151.8,971.3 L155.6,972.1 L158.8,945.6 L163.4,942.5 L168.1,953.4 L171.2,937.8 L174.3,911.4 L175.9,947.2 L178.2,956.5 L183.7,937.8 L186.0,950.3 L190.7,960.4 L197.7,932.4 L199.2,952.6 L204.7,940.9 L206.2,955.7 L210.9,969.7 L217.1,928.5 L223.4,983.7 L224.9,953.4 L228.8,947.2 L233.5,956.5 L236.6,952.6 L240.4,959.5 L242.1,973.8 L244.5,981.0 L245.1,971.4 L246.9,982.7 L248.7,967.9 L250.5,981.0 L254.0,990.5 L255.8,997.0 L257.6,996.4 L258.2,985.1 L260.6,986.9 L261.8,972.6 L263.6,971.4 L264.8,966.1 L267.7,961.9 L268.9,973.2 L273.1,962.5 L273.7,976.2 L276.1,982.1 L280.8,978.6 L280.8,992.3 L282.6,976.2 L287.4,990.5 L289.8,976.8 L291.0,990.5 L293.3,993.5 L296.9,968.5 L299.3,970.8 L302.3,951.2 L304.0,961.9 L305.2,978.6 L309.4,988.7 L313.0,964.9 L313.6,979.8 L317.1,970.2 L319.5,978.6 L321.9,957.7 L323.7,972.6 L326.1,966.1 L329.0,978.0 L332.6,967.9 L336.2,947.6 L340.4,975.0 L343.3,969.6 L346.3,988.1 L349.3,1009.5 L351.1,997.6 L354.0,998.8 L356.4,1002.4 L356.4,975.0 L359.4,973.8 L360.0,953.6 L361.8,979.8 L363.6,929.8 L367.1,964.9 L372.5,939.3 L377.3,960.7 L380.8,944.0 L383.2,946.4 L386.2,963.1 L390.4,992.3 L393.3,966.7 L396.9,976.8 L399.3,961.9 L402.9,952.4 L408.8,986.9 L411.8,979.8 L415.4,998.8 L416.5,978.0 L421.9,981.0 L427.9,960.7 L430.2,973.8 L432.0,964.9 L435.0,978.0 L439.2,979.8 L439.8,990.5 L442.7,986.3 L448.1,1001.2 L451.1,1004.2 L454.0,980.4 L455.8,994.0 L459.4,995.2 L464.8,1017.9 L467.1,1013.1 L471.3,1024.4 L472.3,1000.1 L475.4,1004.7 L477.8,979.8 L478.6,954.9 L479.3,962.7 L484.0,963.5 L485.6,932.4 L487.9,917.6 L491.0,935.5 L493.3,926.1 L495.7,923.0 L498.0,922.3 L500.4,905.1 L501.9,921.5 L505.0,911.4 L508.1,909.8 L511.2,893.5 L515.1,893.5 L516.7,905.1 L519.8,899.7 L521.4,906.7 L525.3,916.8 L527.6,891.1 L530.7,875.6 L533.0,869.3 L534.6,908.2 L536.1,902.8 L540.0,934.7 L542.4,941.7 L543.9,939.4 L547.0,946.4 L550.9,941.7 L554.0,953.4 L557.2,944.8 L560.3,950.3 L561.8,958.0 L567.3,944.0 L568.1,956.5 L571.2,967.4 L574.3,977.5 L579.7,986.9 L582.1,956.5 L586.0,978.3 L588.3,962.7 L592.2,989.2 L594.5,965.8 L598.4,969.7 L600.0,954.2 L602.3,962.7 L605.4,949.5 L611.6,972.1 L615.5,970.5 L615.5,959.6 L619.4,954.2 L624.1,946.4 L631.9,940.9 L633.4,951.8 L635.8,967.4 L638.9,997.0 L642.8,973.6 L645.9,955.7 L649.8,983.0 L652.1,961.2 L656.8,962.0 L660.7,936.3 L663.0,944.0 L666.1,957.3 L670.8,926.9 L674.7,961.2 L678.6,976.0 L680.9,965.8 L684.8,979.1 L689.5,965.1 L696.5,998.5 L698.8,971.3 L701.9,967.4 L703.5,984.5 L706.6,973.6 L709.2,978.6 L711.0,967.9 L713.9,966.1 L714.5,957.1 L718.1,939.3 L721.7,956.0 L722.9,969.0 L725.2,972.6 L727.6,966.7 L730.0,961.9 L731.2,967.3 L734.2,939.3 L734.8,964.3 L736.5,954.8 L737.7,959.5 L741.3,932.7 L743.1,946.4 L744.9,930.4 L746.1,952.4 L749.0,958.3 L751.4,954.2 L752.6,957.1 L753.8,946.4 L755.0,975.0 L757.4,983.3 L759.8,983.3 L762.1,1000.0 L765.1,1005.4 L766.3,995.2 L769.9,964.3 L773.5,969.0 L777.6,941.1 L780.0,959.5 L784.2,950.0 L788.3,961.9 L790.1,944.0 L791.9,957.1 L797.3,992.9 L800.2,989.3 L804.4,1006.5 L808.6,982.1 L810.4,983.3 L813.3,974.4 L815.7,985.7 L816.9,974.4 L821.1,995.2 L824.0,997.6 L825.8,1008.9 L828.8,994.6 L830.0,997.0 L830.0,961.9 L833.6,951.2 L837.1,978.6 L840.7,970.8 L847.3,947.6 L851.4,967.9 L855.0,956.0 L858.6,915.5 L860.4,941.1 L863.9,938.1 L865.7,914.3 L868.1,934.5 L869.9,963.1 L874.0,971.4 L876.4,972.0 L880.0,979.8 L883.6,997.0 L885.4,988.7 L888.9,995.2 L889.5,967.9 L892.5,967.9 L896.1,997.0 L899.6,962.5 L903.8,965.5 L906.2,969.0 L908.6,958.3 L912.1,972.6 L914.5,961.9 L919.3,979.2 L921.1,952.4 L923.5,971.4 L925.2,961.9 L928.8,975.6 L932.4,979.8 L937.7,951.2 L940.0,959.5 L943.0,1000.6 L946.5,972.6 L948.3,966.7 L951.3,966.1 L951.9,948.2 L953.7,964.3 L956.1,960.7 L957.9,964.9 L962.6,981.5 L964.4,979.2 L968.6,983.9 L970.4,982.7 L973.9,951.2 L976.3,966.1 L978.1,963.1 L979.9,967.3 L981.1,936.3 L982.9,937.5 L984.6,956.0 L986.4,932.1 L988.2,945.8 L990.0,941.7 L991.8,944.6 L996.5,964.9 L999.5,964.9 L1001.3,969.0 L1004.9,959.5 L1007.3,976.8 L1009.6,966.7 L1011.4,992.9 L1013.2,951.2 L1016.2,954.8 L1019.8,961.9 L1023.9,968.5 L1025.7,948.8 L1027.5,931.5 L1030.5,931.0 L1031.1,937.5 L1032.9,925.0 L1035.2,933.9 L1037.0,925.0 L1041.2,938.1 L1045.4,964.9 L1048.9,952.4 L1051.3,926.2 L1054.9,953.0 L1056.7,930.4 L1058.5,938.7 L1060.2,923.2 L1062.6,946.4 L1066.2,970.8 L1067.4,980.4 L1068.6,970.8 L1071.0,966.1 L1074.5,978.6 L1078.1,953.0 L1081.7,947.0 L1082.9,953.6 L1087.0,917.3 L1088.8,922.6 L1090.6,954.2 L1094.8,925.0 L1098.3,922.6 L1100.7,936.9 L1103.1,964.3 L1106.7,966.7 L1110.8,991.7 L1112.0,956.0 L1114.4,946.4 L1117.4,944.6 L1121.0,937.5 L1123.3,942.9 L1124.5,940.5 L1128.1,952.4 L1130.5,954.2 L1132.9,967.3 L1135.8,954.2 L1139.4,967.3 L1141.2,948.8 L1144.8,976.2 L1147.7,951.2 L1151.9,947.6 L1154.3,957.7 L1156.7,954.8 L1161.4,951.2 L1163.8,951.2 L1166.2,958.3 L1169.8,929.2 L1171.5,930.4 L1175.1,964.9 L1175.6,951.2 L1179.8,948.8 L1182.1,941.1 L1184.5,942.3 L1186.3,939.3 L1187.5,929.2 L1189.9,933.3 L1191.7,965.5 L1194.6,969.6 L1196.4,976.2 L1198.2,976.2 L1198.8,959.5 L1202.4,979.8 L1206.5,972.6 L1210.7,934.5 L1213.1,931.0 L1214.9,916.7 L1217.3,948.8 L1220.2,954.8 L1223.8,973.8 L1226.2,978.6 L1228.0,997.0 L1230.4,978.0 L1231.5,991.7 L1233.9,972.0 L1236.9,975.0 L1238.1,933.9 L1239.9,941.7 L1241.7,938.1 L1242.9,950.0 L1245.2,944.0 L1245.8,958.3 L1250.6,976.2 L1253.0,961.9 L1254.8,958.9 L1256.5,969.0 L1260.1,967.3 L1261.9,949.4 L1264.3,957.1 L1269.0,947.0 L1270.8,963.1 L1273.8,956.0 L1277.4,968.5 L1279.8,981.0 L1281.5,967.9 L1282.7,976.2 L1286.3,971.4 L1288.7,942.3 L1291.1,949.4 L1292.3,958.3 L1294.0,969.0 L1297.6,978.0 L1298.2,988.7 L1300.6,986.9 L1303.0,991.1 L1304.8,976.2 L1306.5,981.5 L1310.1,962.5 L1311.9,975.0 L1313.7,958.9 L1316.1,967.9 L1320.2,970.8 L1323.8,995.2 L1328.0,960.1 L1329.8,963.7 L1333.3,982.1 L1334.5,972.6 L1337.5,988.7 L1339.3,977.4 L1341.1,983.3 L1342.9,967.9 L1344.6,961.9 L1344.6,909.5 L0.0,909.5 Z" fill="url(#gob)" clip-path="url(#ob)"/>
<path d="M0.0,967.4 L3.1,980.6 L7.0,951.8 L10.9,976.7 L14.8,983.7 L17.1,978.3 L19.5,983.7 L21.8,981.4 L23.3,939.4 L25.7,961.2 L27.2,954.2 L28.8,963.5 L31.9,956.5 L34.2,989.2 L37.4,976.0 L42.8,944.8 L46.7,937.8 L49.0,953.4 L51.4,937.8 L55.3,945.6 L59.1,937.0 L63.8,962.7 L66.9,967.4 L66.9,986.9 L69.3,973.6 L70.8,983.7 L73.9,957.3 L77.8,995.4 L80.9,987.6 L82.5,1008.6 L84.8,984.5 L89.5,976.7 L91.8,953.4 L94.9,962.7 L97.3,963.5 L102.7,951.8 L107.4,967.4 L110.5,954.9 L115.2,946.4 L116.7,979.8 L123.0,981.4 L126.1,986.9 L127.6,973.6 L133.1,961.2 L137.0,967.4 L140.1,970.5 L144.0,984.5 L146.3,993.9 L149.4,947.9 L151.8,971.3 L155.6,972.1 L158.8,945.6 L163.4,942.5 L168.1,953.4 L171.2,937.8 L174.3,911.4 L175.9,947.2 L178.2,956.5 L183.7,937.8 L186.0,950.3 L190.7,960.4 L197.7,932.4 L199.2,952.6 L204.7,940.9 L206.2,955.7 L210.9,969.7 L217.1,928.5 L223.4,983.7 L224.9,953.4 L228.8,947.2 L233.5,956.5 L236.6,952.6 L240.4,959.5 L242.1,973.8 L244.5,981.0 L245.1,971.4 L246.9,982.7 L248.7,967.9 L250.5,981.0 L254.0,990.5 L255.8,997.0 L257.6,996.4 L258.2,985.1 L260.6,986.9 L261.8,972.6 L263.6,971.4 L264.8,966.1 L267.7,961.9 L268.9,973.2 L273.1,962.5 L273.7,976.2 L276.1,982.1 L280.8,978.6 L280.8,992.3 L282.6,976.2 L287.4,990.5 L289.8,976.8 L291.0,990.5 L293.3,993.5 L296.9,968.5 L299.3,970.8 L302.3,951.2 L304.0,961.9 L305.2,978.6 L309.4,988.7 L313.0,964.9 L313.6,979.8 L317.1,970.2 L319.5,978.6 L321.9,957.7 L323.7,972.6 L326.1,966.1 L329.0,978.0 L332.6,967.9 L336.2,947.6 L340.4,975.0 L343.3,969.6 L346.3,988.1 L349.3,1009.5 L351.1,997.6 L354.0,998.8 L356.4,1002.4 L356.4,975.0 L359.4,973.8 L360.0,953.6 L361.8,979.8 L363.6,929.8 L367.1,964.9 L372.5,939.3 L377.3,960.7 L380.8,944.0 L383.2,946.4 L386.2,963.1 L390.4,992.3 L393.3,966.7 L396.9,976.8 L399.3,961.9 L402.9,952.4 L408.8,986.9 L411.8,979.8 L415.4,998.8 L416.5,978.0 L421.9,981.0 L427.9,960.7 L430.2,973.8 L432.0,964.9 L435.0,978.0 L439.2,979.8 L439.8,990.5 L442.7,986.3 L448.1,1001.2 L451.1,1004.2 L454.0,980.4 L455.8,994.0 L459.4,995.2 L464.8,1017.9 L467.1,1013.1 L471.3,1024.4 L472.3,1000.1 L475.4,1004.7 L477.8,979.8 L478.6,954.9 L479.3,962.7 L484.0,963.5 L485.6,932.4 L487.9,917.6 L491.0,935.5 L493.3,926.1 L495.7,923.0 L498.0,922.3 L500.4,905.1 L501.9,921.5 L505.0,911.4 L508.1,909.8 L511.2,893.5 L515.1,893.5 L516.7,905.1 L519.8,899.7 L521.4,906.7 L525.3,916.8 L527.6,891.1 L530.7,875.6 L533.0,869.3 L534.6,908.2 L536.1,902.8 L540.0,934.7 L542.4,941.7 L543.9,939.4 L547.0,946.4 L550.9,941.7 L554.0,953.4 L557.2,944.8 L560.3,950.3 L561.8,958.0 L567.3,944.0 L568.1,956.5 L571.2,967.4 L574.3,977.5 L579.7,986.9 L582.1,956.5 L586.0,978.3 L588.3,962.7 L592.2,989.2 L594.5,965.8 L598.4,969.7 L600.0,954.2 L602.3,962.7 L605.4,949.5 L611.6,972.1 L615.5,970.5 L615.5,959.6 L619.4,954.2 L624.1,946.4 L631.9,940.9 L633.4,951.8 L635.8,967.4 L638.9,997.0 L642.8,973.6 L645.9,955.7 L649.8,983.0 L652.1,961.2 L656.8,962.0 L660.7,936.3 L663.0,944.0 L666.1,957.3 L670.8,926.9 L674.7,961.2 L678.6,976.0 L680.9,965.8 L684.8,979.1 L689.5,965.1 L696.5,998.5 L698.8,971.3 L701.9,967.4 L703.5,984.5 L706.6,973.6 L709.2,978.6 L711.0,967.9 L713.9,966.1 L714.5,957.1 L718.1,939.3 L721.7,956.0 L722.9,969.0 L725.2,972.6 L727.6,966.7 L730.0,961.9 L731.2,967.3 L734.2,939.3 L734.8,964.3 L736.5,954.8 L737.7,959.5 L741.3,932.7 L743.1,946.4 L744.9,930.4 L746.1,952.4 L749.0,958.3 L751.4,954.2 L752.6,957.1 L753.8,946.4 L755.0,975.0 L757.4,983.3 L759.8,983.3 L762.1,1000.0 L765.1,1005.4 L766.3,995.2 L769.9,964.3 L773.5,969.0 L777.6,941.1 L780.0,959.5 L784.2,950.0 L788.3,961.9 L790.1,944.0 L791.9,957.1 L797.3,992.9 L800.2,989.3 L804.4,1006.5 L808.6,982.1 L810.4,983.3 L813.3,974.4 L815.7,985.7 L816.9,974.4 L821.1,995.2 L824.0,997.6 L825.8,1008.9 L828.8,994.6 L830.0,997.0 L830.0,961.9 L833.6,951.2 L837.1,978.6 L840.7,970.8 L847.3,947.6 L851.4,967.9 L855.0,956.0 L858.6,915.5 L860.4,941.1 L863.9,938.1 L865.7,914.3 L868.1,934.5 L869.9,963.1 L874.0,971.4 L876.4,972.0 L880.0,979.8 L883.6,997.0 L885.4,988.7 L888.9,995.2 L889.5,967.9 L892.5,967.9 L896.1,997.0 L899.6,962.5 L903.8,965.5 L906.2,969.0 L908.6,958.3 L912.1,972.6 L914.5,961.9 L919.3,979.2 L921.1,952.4 L923.5,971.4 L925.2,961.9 L928.8,975.6 L932.4,979.8 L937.7,951.2 L940.0,959.5 L943.0,1000.6 L946.5,972.6 L948.3,966.7 L951.3,966.1 L951.9,948.2 L953.7,964.3 L956.1,960.7 L957.9,964.9 L962.6,981.5 L964.4,979.2 L968.6,983.9 L970.4,982.7 L973.9,951.2 L976.3,966.1 L978.1,963.1 L979.9,967.3 L981.1,936.3 L982.9,937.5 L984.6,956.0 L986.4,932.1 L988.2,945.8 L990.0,941.7 L991.8,944.6 L996.5,964.9 L999.5,964.9 L1001.3,969.0 L1004.9,959.5 L1007.3,976.8 L1009.6,966.7 L1011.4,992.9 L1013.2,951.2 L1016.2,954.8 L1019.8,961.9 L1023.9,968.5 L1025.7,948.8 L1027.5,931.5 L1030.5,931.0 L1031.1,937.5 L1032.9,925.0 L1035.2,933.9 L1037.0,925.0 L1041.2,938.1 L1045.4,964.9 L1048.9,952.4 L1051.3,926.2 L1054.9,953.0 L1056.7,930.4 L1058.5,938.7 L1060.2,923.2 L1062.6,946.4 L1066.2,970.8 L1067.4,980.4 L1068.6,970.8 L1071.0,966.1 L1074.5,978.6 L1078.1,953.0 L1081.7,947.0 L1082.9,953.6 L1087.0,917.3 L1088.8,922.6 L1090.6,954.2 L1094.8,925.0 L1098.3,922.6 L1100.7,936.9 L1103.1,964.3 L1106.7,966.7 L1110.8,991.7 L1112.0,956.0 L1114.4,946.4 L1117.4,944.6 L1121.0,937.5 L1123.3,942.9 L1124.5,940.5 L1128.1,952.4 L1130.5,954.2 L1132.9,967.3 L1135.8,954.2 L1139.4,967.3 L1141.2,948.8 L1144.8,976.2 L1147.7,951.2 L1151.9,947.6 L1154.3,957.7 L1156.7,954.8 L1161.4,951.2 L1163.8,951.2 L1166.2,958.3 L1169.8,929.2 L1171.5,930.4 L1175.1,964.9 L1175.6,951.2 L1179.8,948.8 L1182.1,941.1 L1184.5,942.3 L1186.3,939.3 L1187.5,929.2 L1189.9,933.3 L1191.7,965.5 L1194.6,969.6 L1196.4,976.2 L1198.2,976.2 L1198.8,959.5 L1202.4,979.8 L1206.5,972.6 L1210.7,934.5 L1213.1,931.0 L1214.9,916.7 L1217.3,948.8 L1220.2,954.8 L1223.8,973.8 L1226.2,978.6 L1228.0,997.0 L1230.4,978.0 L1231.5,991.7 L1233.9,972.0 L1236.9,975.0 L1238.1,933.9 L1239.9,941.7 L1241.7,938.1 L1242.9,950.0 L1245.2,944.0 L1245.8,958.3 L1250.6,976.2 L1253.0,961.9 L1254.8,958.9 L1256.5,969.0 L1260.1,967.3 L1261.9,949.4 L1264.3,957.1 L1269.0,947.0 L1270.8,963.1 L1273.8,956.0 L1277.4,968.5 L1279.8,981.0 L1281.5,967.9 L1282.7,976.2 L1286.3,971.4 L1288.7,942.3 L1291.1,949.4 L1292.3,958.3 L1294.0,969.0 L1297.6,978.0 L1298.2,988.7 L1300.6,986.9 L1303.0,991.1 L1304.8,976.2 L1306.5,981.5 L1310.1,962.5 L1311.9,975.0 L1313.7,958.9 L1316.1,967.9 L1320.2,970.8 L1323.8,995.2 L1328.0,960.1 L1329.8,963.7 L1333.3,982.1 L1334.5,972.6 L1337.5,988.7 L1339.3,977.4 L1341.1,983.3 L1342.9,967.9 L1344.6,961.9 L1344.6,992.5 L0.0,992.5 Z" fill="url(#gos)" clip-path="url(#os)"/>
<path d="M0.0,967.4 L3.1,980.6 L7.0,951.8 L10.9,976.7 L14.8,983.7 L17.1,978.3 L19.5,983.7 L21.8,981.4 L23.3,939.4 L25.7,961.2 L27.2,954.2 L28.8,963.5 L31.9,956.5 L34.2,989.2 L37.4,976.0 L42.8,944.8 L46.7,937.8 L49.0,953.4 L51.4,937.8 L55.3,945.6 L59.1,937.0 L63.8,962.7 L66.9,967.4 L66.9,986.9 L69.3,973.6 L70.8,983.7 L73.9,957.3 L77.8,995.4 L80.9,987.6 L82.5,1008.6 L84.8,984.5 L89.5,976.7 L91.8,953.4 L94.9,962.7 L97.3,963.5 L102.7,951.8 L107.4,967.4 L110.5,954.9 L115.2,946.4 L116.7,979.8 L123.0,981.4 L126.1,986.9 L127.6,973.6 L133.1,961.2 L137.0,967.4 L140.1,970.5 L144.0,984.5 L146.3,993.9 L149.4,947.9 L151.8,971.3 L155.6,972.1 L158.8,945.6 L163.4,942.5 L168.1,953.4 L171.2,937.8 L174.3,911.4 L175.9,947.2 L178.2,956.5 L183.7,937.8 L186.0,950.3 L190.7,960.4 L197.7,932.4 L199.2,952.6 L204.7,940.9 L206.2,955.7 L210.9,969.7 L217.1,928.5 L223.4,983.7 L224.9,953.4 L228.8,947.2 L233.5,956.5 L236.6,952.6 L240.4,959.5 L242.1,973.8 L244.5,981.0 L245.1,971.4 L246.9,982.7 L248.7,967.9 L250.5,981.0 L254.0,990.5 L255.8,997.0 L257.6,996.4 L258.2,985.1 L260.6,986.9 L261.8,972.6 L263.6,971.4 L264.8,966.1 L267.7,961.9 L268.9,973.2 L273.1,962.5 L273.7,976.2 L276.1,982.1 L280.8,978.6 L280.8,992.3 L282.6,976.2 L287.4,990.5 L289.8,976.8 L291.0,990.5 L293.3,993.5 L296.9,968.5 L299.3,970.8 L302.3,951.2 L304.0,961.9 L305.2,978.6 L309.4,988.7 L313.0,964.9 L313.6,979.8 L317.1,970.2 L319.5,978.6 L321.9,957.7 L323.7,972.6 L326.1,966.1 L329.0,978.0 L332.6,967.9 L336.2,947.6 L340.4,975.0 L343.3,969.6 L346.3,988.1 L349.3,1009.5 L351.1,997.6 L354.0,998.8 L356.4,1002.4 L356.4,975.0 L359.4,973.8 L360.0,953.6 L361.8,979.8 L363.6,929.8 L367.1,964.9 L372.5,939.3 L377.3,960.7 L380.8,944.0 L383.2,946.4 L386.2,963.1 L390.4,992.3 L393.3,966.7 L396.9,976.8 L399.3,961.9 L402.9,952.4 L408.8,986.9 L411.8,979.8 L415.4,998.8 L416.5,978.0 L421.9,981.0 L427.9,960.7 L430.2,973.8 L432.0,964.9 L435.0,978.0 L439.2,979.8 L439.8,990.5 L442.7,986.3 L448.1,1001.2 L451.1,1004.2 L454.0,980.4 L455.8,994.0 L459.4,995.2 L464.8,1017.9 L467.1,1013.1 L471.3,1024.4 L472.3,1000.1 L475.4,1004.7 L477.8,979.8 L478.6,954.9 L479.3,962.7 L484.0,963.5 L485.6,932.4 L487.9,917.6 L491.0,935.5 L493.3,926.1 L495.7,923.0 L498.0,922.3 L500.4,905.1 L501.9,921.5 L505.0,911.4 L508.1,909.8 L511.2,893.5 L515.1,893.5 L516.7,905.1 L519.8,899.7 L521.4,906.7 L525.3,916.8 L527.6,891.1 L530.7,875.6 L533.0,869.3 L534.6,908.2 L536.1,902.8 L540.0,934.7 L542.4,941.7 L543.9,939.4 L547.0,946.4 L550.9,941.7 L554.0,953.4 L557.2,944.8 L560.3,950.3 L561.8,958.0 L567.3,944.0 L568.1,956.5 L571.2,967.4 L574.3,977.5 L579.7,986.9 L582.1,956.5 L586.0,978.3 L588.3,962.7 L592.2,989.2 L594.5,965.8 L598.4,969.7 L600.0,954.2 L602.3,962.7 L605.4,949.5 L611.6,972.1 L615.5,970.5 L615.5,959.6 L619.4,954.2 L624.1,946.4 L631.9,940.9 L633.4,951.8 L635.8,967.4 L638.9,997.0 L642.8,973.6 L645.9,955.7 L649.8,983.0 L652.1,961.2 L656.8,962.0 L660.7,936.3 L663.0,944.0 L666.1,957.3 L670.8,926.9 L674.7,961.2 L678.6,976.0 L680.9,965.8 L684.8,979.1 L689.5,965.1 L696.5,998.5 L698.8,971.3 L701.9,967.4 L703.5,984.5 L706.6,973.6 L709.2,978.6 L711.0,967.9 L713.9,966.1 L714.5,957.1 L718.1,939.3 L721.7,956.0 L722.9,969.0 L725.2,972.6 L727.6,966.7 L730.0,961.9 L731.2,967.3 L734.2,939.3 L734.8,964.3 L736.5,954.8 L737.7,959.5 L741.3,932.7 L743.1,946.4 L744.9,930.4 L746.1,952.4 L749.0,958.3 L751.4,954.2 L752.6,957.1 L753.8,946.4 L755.0,975.0 L757.4,983.3 L759.8,983.3 L762.1,1000.0 L765.1,1005.4 L766.3,995.2 L769.9,964.3 L773.5,969.0 L777.6,941.1 L780.0,959.5 L784.2,950.0 L788.3,961.9 L790.1,944.0 L791.9,957.1 L797.3,992.9 L800.2,989.3 L804.4,1006.5 L808.6,982.1 L810.4,983.3 L813.3,974.4 L815.7,985.7 L816.9,974.4 L821.1,995.2 L824.0,997.6 L825.8,1008.9 L828.8,994.6 L830.0,997.0 L830.0,961.9 L833.6,951.2 L837.1,978.6 L840.7,970.8 L847.3,947.6 L851.4,967.9 L855.0,956.0 L858.6,915.5 L860.4,941.1 L863.9,938.1 L865.7,914.3 L868.1,934.5 L869.9,963.1 L874.0,971.4 L876.4,972.0 L880.0,979.8 L883.6,997.0 L885.4,988.7 L888.9,995.2 L889.5,967.9 L892.5,967.9 L896.1,997.0 L899.6,962.5 L903.8,965.5 L906.2,969.0 L908.6,958.3 L912.1,972.6 L914.5,961.9 L919.3,979.2 L921.1,952.4 L923.5,971.4 L925.2,961.9 L928.8,975.6 L932.4,979.8 L937.7,951.2 L940.0,959.5 L943.0,1000.6 L946.5,972.6 L948.3,966.7 L951.3,966.1 L951.9,948.2 L953.7,964.3 L956.1,960.7 L957.9,964.9 L962.6,981.5 L964.4,979.2 L968.6,983.9 L970.4,982.7 L973.9,951.2 L976.3,966.1 L978.1,963.1 L979.9,967.3 L981.1,936.3 L982.9,937.5 L984.6,956.0 L986.4,932.1 L988.2,945.8 L990.0,941.7 L991.8,944.6 L996.5,964.9 L999.5,964.9 L1001.3,969.0 L1004.9,959.5 L1007.3,976.8 L1009.6,966.7 L1011.4,992.9 L1013.2,951.2 L1016.2,954.8 L1019.8,961.9 L1023.9,968.5 L1025.7,948.8 L1027.5,931.5 L1030.5,931.0 L1031.1,937.5 L1032.9,925.0 L1035.2,933.9 L1037.0,925.0 L1041.2,938.1 L1045.4,964.9 L1048.9,952.4 L1051.3,926.2 L1054.9,953.0 L1056.7,930.4 L1058.5,938.7 L1060.2,923.2 L1062.6,946.4 L1066.2,970.8 L1067.4,980.4 L1068.6,970.8 L1071.0,966.1 L1074.5,978.6 L1078.1,953.0 L1081.7,947.0 L1082.9,953.6 L1087.0,917.3 L1088.8,922.6 L1090.6,954.2 L1094.8,925.0 L1098.3,922.6 L1100.7,936.9 L1103.1,964.3 L1106.7,966.7 L1110.8,991.7 L1112.0,956.0 L1114.4,946.4 L1117.4,944.6 L1121.0,937.5 L1123.3,942.9 L1124.5,940.5 L1128.1,952.4 L1130.5,954.2 L1132.9,967.3 L1135.8,954.2 L1139.4,967.3 L1141.2,948.8 L1144.8,976.2 L1147.7,951.2 L1151.9,947.6 L1154.3,957.7 L1156.7,954.8 L1161.4,951.2 L1163.8,951.2 L1166.2,958.3 L1169.8,929.2 L1171.5,930.4 L1175.1,964.9 L1175.6,951.2 L1179.8,948.8 L1182.1,941.1 L1184.5,942.3 L1186.3,939.3 L1187.5,929.2 L1189.9,933.3 L1191.7,965.5 L1194.6,969.6 L1196.4,976.2 L1198.2,976.2 L1198.8,959.5 L1202.4,979.8 L1206.5,972.6 L1210.7,934.5 L1213.1,931.0 L1214.9,916.7 L1217.3,948.8 L1220.2,954.8 L1223.8,973.8 L1226.2,978.6 L1228.0,997.0 L1230.4,978.0 L1231.5,991.7 L1233.9,972.0 L1236.9,975.0 L1238.1,933.9 L1239.9,941.7 L1241.7,938.1 L1242.9,950.0 L1245.2,944.0 L1245.8,958.3 L1250.6,976.2 L1253.0,961.9 L1254.8,958.9 L1256.5,969.0 L1260.1,967.3 L1261.9,949.4 L1264.3,957.1 L1269.0,947.0 L1270.8,963.1 L1273.8,956.0 L1277.4,968.5 L1279.8,981.0 L1281.5,967.9 L1282.7,976.2 L1286.3,971.4 L1288.7,942.3 L1291.1,949.4 L1292.3,958.3 L1294.0,969.0 L1297.6,978.0 L1298.2,988.7 L1300.6,986.9 L1303.0,991.1 L1304.8,976.2 L1306.5,981.5 L1310.1,962.5 L1311.9,975.0 L1313.7,958.9 L1316.1,967.9 L1320.2,970.8 L1323.8,995.2 L1328.0,960.1 L1329.8,963.7 L1333.3,982.1 L1334.5,972.6 L1337.5,988.7 L1339.3,977.4 L1341.1,983.3 L1342.9,967.9 L1344.6,961.9" fill="none" stroke="#7e57c2" stroke-width="1.6" stroke-linejoin="round"/>
<path d="M0.0,969.7 L7.8,969.0 L19.5,975.2 L31.1,965.8 L40.5,963.5 L49.8,958.0 L59.9,944.0 L66.9,949.5 L74.7,965.8 L84.0,984.5 L91.8,984.5 L99.6,973.6 L107.4,958.0 L114.4,955.7 L123.0,965.8 L132.3,977.5 L141.6,972.1 L146.3,975.2 L157.2,974.4 L164.2,959.6 L168.9,954.9 L175.1,944.0 L188.3,944.0 L196.1,948.7 L208.6,948.7 L214.8,951.8 L222.6,953.4 L230.4,950.3 L235.0,954.2 L241.0,954.2 L248.1,964.9 L252.9,970.2 L258.8,982.1 L267.1,981.0 L275.5,972.6 L282.6,975.0 L294.5,985.1 L305.2,975.6 L313.6,974.4 L320.7,978.0 L329.0,971.4 L336.8,964.9 L343.9,966.7 L350.5,976.2 L357.0,991.1 L362.4,987.5 L366.0,975.0 L373.1,954.2 L377.9,951.2 L385.0,949.4 L388.6,952.4 L393.3,964.9 L401.7,972.6 L408.2,966.1 L424.3,983.3 L432.0,974.4 L439.8,974.4 L444.5,977.4 L452.9,991.1 L460.0,995.2 L468.3,1004.8 L476.2,1009.4 L479.3,1004.7 L485.6,981.4 L488.7,962.7 L494.9,939.4 L501.1,925.4 L507.4,917.6 L516.7,905.1 L522.9,902.8 L529.1,899.7 L533.8,895.8 L538.5,898.9 L544.7,906.7 L547.8,922.3 L552.5,939.4 L557.2,944.8 L566.5,950.3 L572.7,955.7 L579.0,965.8 L593.0,972.8 L602.3,971.3 L611.6,961.2 L624.1,959.6 L632.6,951.0 L641.2,965.8 L649.8,976.0 L656.8,967.4 L673.9,944.8 L687.9,962.7 L697.2,978.3 L705.0,980.4 L707.4,981.5 L712.1,977.4 L716.9,970.2 L721.7,962.5 L728.8,960.1 L734.2,959.5 L737.7,961.9 L740.7,958.9 L745.5,950.0 L750.2,948.8 L755.0,950.0 L758.6,956.0 L762.1,967.3 L765.7,977.4 L770.5,985.7 L775.2,981.0 L781.2,969.0 L785.4,957.7 L791.9,954.2 L795.5,958.3 L801.4,971.4 L806.2,983.3 L812.1,991.1 L818.1,988.1 L822.3,985.1 L828.8,990.5 L834.2,983.3 L839.5,978.6 L846.7,966.7 L850.2,963.7 L852.6,964.3 L859.8,949.4 L864.5,945.2 L869.3,938.7 L872.9,939.9 L880.0,956.5 L888.3,982.1 L895.5,983.3 L901.4,977.4 L906.2,972.6 L912.1,970.2 L916.3,964.3 L924.0,964.9 L932.4,970.2 L938.3,967.3 L940.0,968.5 L946.0,974.4 L951.9,971.4 L956.1,972.6 L962.6,967.9 L970.4,974.4 L978.1,972.0 L981.1,967.9 L987.6,957.1 L994.8,947.6 L1004.3,956.0 L1011.4,968.5 L1023.3,965.5 L1028.1,957.1 L1034.0,946.4 L1041.8,934.5 L1048.3,943.5 L1056.1,947.0 L1061.4,942.3 L1067.4,944.6 L1076.9,965.5 L1082.9,964.9 L1091.2,945.8 L1100.7,931.0 L1111.4,952.4 L1118.6,958.9 L1126.9,945.2 L1135.2,950.0 L1144.8,961.9 L1154.3,959.5 L1163.8,954.8 L1173.3,950.0 L1181.0,949.4 L1185.1,947.0 L1190.5,946.4 L1195.2,950.0 L1202.4,960.7 L1207.1,972.0 L1210.7,970.8 L1215.5,957.1 L1222.6,950.0 L1226.2,950.6 L1231.0,961.9 L1233.3,971.4 L1238.1,977.4 L1242.9,968.5 L1247.6,958.3 L1254.8,954.8 L1259.5,961.9 L1270.2,958.3 L1277.4,957.7 L1286.3,967.3 L1292.3,964.3 L1297.6,965.5 L1307.1,976.2 L1311.9,979.2 L1320.2,971.4 L1328.6,972.6 L1338.1,976.8 L1344.6,974.4" fill="none" stroke="#fdd835" stroke-width="1.8" stroke-linejoin="round"/>
<text x="2004" y="92.9" font-size="22" fill="#131722" letter-spacing="1.5" style="font-family:Liberation Sans,sans-serif">0.0019000</text>
<text x="2004" y="162.2" font-size="22" fill="#131722" letter-spacing="1.5" style="font-family:Liberation Sans,sans-serif">0.0018000</text>
<text x="2004" y="231.6" font-size="22" fill="#131722" letter-spacing="1.5" style="font-family:Liberation Sans,sans-serif">0.0017000</text>
<text x="2004" y="300.9" font-size="22" fill="#131722" letter-spacing="1.5" style="font-family:Liberation Sans,sans-serif">0.0016000</text>
<text x="2004" y="370.2" font-size="22" fill="#131722" letter-spacing="1.5" style="font-family:Liberation Sans,sans-serif">0.0015000</text>
<text x="2004" y="439.5" font-size="22" fill="#131722" letter-spacing="1.5" style="font-family:Liberation Sans,sans-serif">0.0014000</text>
<text x="2004" y="508.9" font-size="22" fill="#131722" letter-spacing="1.5" style="font-family:Liberation Sans,sans-serif">0.0013000</text>
<text x="2004" y="578.2" font-size="22" fill="#131722" letter-spacing="1.5" style="font-family:Liberation Sans,sans-serif">0.0012000</text>
<text x="2004" y="647.5" font-size="22" fill="#131722" letter-spacing="1.5" style="font-family:Liberation Sans,sans-serif">0.0011000</text>
<path d="M1988,293 H2126.5 Q2129,293 2129,295.5 V320.5 Q2129,323 2126.5,323 H1988 Z" fill="#f23645"/>
<path d="M1988,323 H2126.5 Q2129,323 2129,325.5 V351.2 Q2129,353.7 2126.5,353.7 H1988 Z" fill="#089981"/>
<path d="M1988,652 H2126.5 Q2129,652 2129,654.5 V705.1 Q2129,707.6 2126.5,707.6 H1988 Z" fill="#2962ff"/>
<path d="M1988,708 H2126.5 Q2129,708 2129,710.5 V734.9 Q2129,737.4 2126.5,737.4 H1988 Z" fill="#787b86"/>
<path d="M1988,737.4 H2126.5 Q2129,737.4 2129,739.9 V765.5 Q2129,768 2126.5,768 H1988 Z" fill="#f44336"/>
<path d="M1988,768 H2126.5 Q2129,768 2129,770.5 V796.5 Q2129,799 2126.5,799 H1988 Z" fill="#f23645"/>
<rect x="1994.5" y="6.5" width="148" height="46" rx="7" fill="#fff" stroke="#e0e3eb" stroke-width="1"/>
<g fill="#f3f3f3" stroke="#d6d6d6" stroke-width="0.9" stroke-linejoin="round"><path d="M1955,1051.5 L1964.8,1061.3 L1961.8,1064.3 L1955,1057.5 L1948.2,1064.3 L1945.2,1061.3 Z"/><path d="M1955,1081 L1964.8,1071.2 L1961.8,1068.2 L1955,1075 L1948.2,1068.2 L1945.2,1071.2 Z"/><path d="M1955,1062.8 L1958.5,1066.3 L1955,1069.8 L1951.5,1066.3 Z"/><path d="M1944,1063.3 L1947,1066.3 L1944,1069.3 L1941,1066.3 Z"/><path d="M1966,1063.3 L1969,1066.3 L1966,1069.3 L1963,1066.3 Z"/></g>
<g style="font-family:'Liberation Sans',sans-serif">
<text x="0" y="0" font-size="22" font-weight="bold" fill="#131722" letter-spacing="0" text-anchor="start" transform="translate(14.8,37) scale(0.941,1)">AKE / TetherUS PERPETUAL CONTRACT · 15 · Binance</text>
<text x="0" y="0" font-size="22" font-weight="normal" fill="#131722" letter-spacing="0" text-anchor="start" transform="translate(14.8,68) scale(0.947,1)">Vol · AKE</text>
<text x="2010.5" y="37.4" font-size="22.5" font-weight="normal" fill="#131722" letter-spacing="0" text-anchor="start" >USDT</text>
<text x="2004" y="315.9" font-size="22" font-weight="normal" fill="#fff" letter-spacing="1.5" text-anchor="start" >0.0015525</text>
<text x="2004" y="345.9" font-size="22" font-weight="normal" fill="#fff" letter-spacing="1.5" text-anchor="start" >0.0015345</text>
<text x="2004" y="674.6" font-size="22" font-weight="normal" fill="#fff" letter-spacing="1.5" text-anchor="start" >0.0010610</text>
<text x="2004" y="699.8" font-size="22" font-weight="normal" fill="#fff" letter-spacing="1.5" text-anchor="start" >06:46</text>
<text x="2004" y="729.3" font-size="22" font-weight="normal" fill="#fff" letter-spacing="1.5" text-anchor="start" >0.0010478</text>
<text x="2004" y="759.2" font-size="22" font-weight="normal" fill="#fff" letter-spacing="1.5" text-anchor="start" >0.0009469</text>
<text x="2004" y="790.2" font-size="22" font-weight="normal" fill="#fff" letter-spacing="1.5" text-anchor="start" >0.0009275</text>
<text x="0" y="0" font-size="22" font-weight="normal" fill="#131722" letter-spacing="0" text-anchor="start" transform="translate(15,886.8) scale(0.95,1)">RSI (14, close)</text>
<text x="2004" y="895.5" font-size="22" font-weight="normal" fill="#131722" letter-spacing="1.5" text-anchor="start" >80.00</text>
<text x="2004" y="978.5" font-size="22" font-weight="normal" fill="#131722" letter-spacing="1.5" text-anchor="start" >40.00</text>
<text x="118.1" y="1075.8" font-size="22" font-weight="normal" fill="#131722" letter-spacing="2.4" text-anchor="middle" >28</text>
<text x="237.0" y="1075.8" font-size="22" font-weight="normal" fill="#131722" letter-spacing="2.4" text-anchor="middle" >29</text>
<text x="355.9" y="1075.8" font-size="22" font-weight="normal" fill="#131722" letter-spacing="2.4" text-anchor="middle" >30</text>
<text x="474.8" y="1075.8" font-size="22" font-weight="normal" fill="#131722" letter-spacing="2.4" text-anchor="middle" >31</text>
<text x="592.5" y="1075.8" font-size="22" font-weight="bold" fill="#131722" letter-spacing="0" text-anchor="middle" >Nov</text>
<text x="712.6" y="1075.8" font-size="22" font-weight="normal" fill="#131722" letter-spacing="2.4" text-anchor="middle" >2</text>
<text x="831.5" y="1075.8" font-size="22" font-weight="normal" fill="#131722" letter-spacing="2.4" text-anchor="middle" >3</text>
<text x="950.4" y="1075.8" font-size="22" font-weight="normal" fill="#131722" letter-spacing="2.4" text-anchor="middle" >4</text>
<text x="1069.3" y="1075.8" font-size="22" font-weight="normal" fill="#131722" letter-spacing="2.4" text-anchor="middle" >5</text>
<text x="1188.2" y="1075.8" font-size="22" font-weight="normal" fill="#131722" letter-spacing="2.4" text-anchor="middle" >6</text>
<text x="1307.1" y="1075.8" font-size="22" font-weight="normal" fill="#131722" letter-spacing="2.4" text-anchor="middle" >7</text>
<text x="1426.0" y="1075.8" font-size="22" font-weight="normal" fill="#131722" letter-spacing="2.4" text-anchor="middle" >8</text>
<text x="1544.9" y="1075.8" font-size="22" font-weight="normal" fill="#131722" letter-spacing="2.4" text-anchor="middle" >9</text>
<text x="1663.8" y="1075.8" font-size="22" font-weight="normal" fill="#131722" letter-spacing="2.4" text-anchor="middle" >10</text>
<text x="1782.7" y="1075.8" font-size="22" font-weight="normal" fill="#131722" letter-spacing="2.4" text-anchor="middle" >11</text>
<text x="1901.6" y="1075.8" font-size="22" font-weight="normal" fill="#131722" letter-spacing="2.4" text-anchor="middle" >12</text>
<text x="1307.5" y="302.9" font-size="21.6" font-weight="normal" fill="#05705f" letter-spacing="1.3" text-anchor="start" >0.0004867 (46.45%) 1241.18</text>
<text x="1327.8" y="618.5" font-size="21.6" font-weight="normal" fill="#05705f" letter-spacing="1.35" text-anchor="start" >0.0000132 ~ 247770.069</text>
<text x="1462.5" y="640.3" font-size="21.6" font-weight="normal" fill="#05705f" letter-spacing="1.5" text-anchor="middle" >4.82</text>
<text x="1336.5" y="796.7" font-size="21.6" font-weight="normal" fill="#b3261e" letter-spacing="1.3" text-anchor="start" >0.0001009 (9.63%) 950</text>
<text x="1974" y="1074.2" font-size="24" font-weight="normal" fill="#fcfcfc" letter-spacing="0.5" text-anchor="start" stroke="#d2d2d2" stroke-width="0.6">@Trisha_Saha</text>
</g>
</svg>
</body></html>
